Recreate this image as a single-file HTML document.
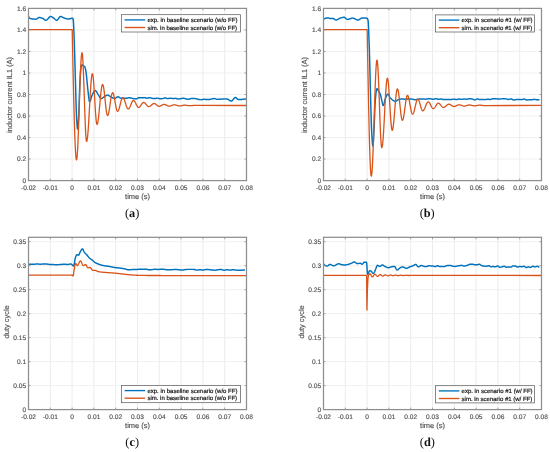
<!DOCTYPE html>
<html lang="en">
<head>
<meta charset="utf-8">
<title>Inductor current and duty cycle: experiment vs. simulation</title>
<style>
html,body{margin:0;padding:0;background:#fff;}
body{width:550px;height:452px;overflow:hidden;}
svg{display:block;}
text{text-rendering:geometricPrecision;}
.tk{font-family:"Liberation Sans",Arial,Helvetica,sans-serif;font-size:6.6px;fill:#505050;stroke:#505050;stroke-width:0.15px;}
.lb{font-family:"Liberation Sans",Arial,Helvetica,sans-serif;font-size:7.45px;fill:#505050;stroke:#505050;stroke-width:0.15px;}
.lg{font-family:"Liberation Sans",Arial,Helvetica,sans-serif;font-size:6px;fill:#111;stroke:#111;stroke-width:0.18px;}
.cap{font-family:"Liberation Serif","Times New Roman",serif;font-size:12.3px;fill:#111;}
</style>
</head>
<body>
<svg width="550" height="452" viewBox="0 0 550 452">
<rect width="550" height="452" fill="#fff"/>
<path d="M50.30 8.40 V180.60 M72.10 8.40 V180.60 M93.90 8.40 V180.60 M115.70 8.40 V180.60 M137.50 8.40 V180.60 M159.30 8.40 V180.60 M181.10 8.40 V180.60 M202.90 8.40 V180.60 M224.70 8.40 V180.60" stroke="#eaeaea" stroke-width="0.9" fill="none"/>
<path d="M28.50 159.07 H246.50 M28.50 137.55 H246.50 M28.50 116.03 H246.50 M28.50 94.50 H246.50 M28.50 72.98 H246.50 M28.50 51.45 H246.50 M28.50 29.93 H246.50" stroke="#eeeeee" stroke-width="0.9" fill="none"/>
<path d="M28.50 16.50 L28.75 16.86 L29.00 17.21 L29.25 17.54 L29.50 17.84 L29.75 18.11 L30.00 18.33 L30.25 18.49 L30.50 18.60 L30.75 18.67 L31.00 18.73 L31.25 18.78 L31.50 18.82 L31.75 18.86 L32.00 18.89 L32.25 18.92 L32.50 18.95 L32.75 18.98 L33.00 19.00 L33.25 19.02 L33.50 19.05 L33.75 19.07 L34.00 19.09 L34.25 19.12 L34.50 19.14 L34.75 19.15 L35.00 19.17 L35.25 19.18 L35.50 19.19 L35.75 19.20 L36.00 19.20 L36.25 19.17 L36.50 19.09 L36.75 18.98 L37.00 18.83 L37.25 18.65 L37.50 18.47 L37.75 18.27 L38.00 18.08 L38.25 17.91 L38.50 17.75 L38.75 17.63 L39.00 17.54 L39.25 17.50 L39.50 17.50 L39.75 17.52 L40.00 17.56 L40.25 17.60 L40.50 17.65 L40.75 17.72 L41.00 17.79 L41.25 17.87 L41.50 17.95 L41.75 18.03 L42.00 18.12 L42.25 18.21 L42.50 18.30 L42.75 18.41 L43.00 18.55 L43.25 18.72 L43.50 18.91 L43.75 19.11 L44.00 19.32 L44.25 19.53 L44.50 19.72 L44.75 19.90 L45.00 20.06 L45.25 20.18 L45.50 20.26 L45.75 20.30 L46.00 20.28 L46.25 20.21 L46.50 20.09 L46.75 19.93 L47.00 19.73 L47.25 19.50 L47.50 19.25 L47.75 18.97 L48.00 18.69 L48.25 18.40 L48.50 18.11 L48.75 17.83 L49.00 17.55 L49.25 17.30 L49.50 17.07 L49.75 16.87 L50.00 16.71 L50.25 16.59 L50.50 16.52 L50.75 16.50 L51.00 16.53 L51.25 16.60 L51.50 16.70 L51.75 16.82 L52.00 16.97 L52.25 17.13 L52.50 17.30 L52.75 17.47 L53.00 17.64 L53.25 17.81 L53.50 17.96 L53.75 18.14 L54.00 18.35 L54.25 18.58 L54.50 18.82 L54.75 19.06 L55.00 19.30 L55.25 19.53 L55.50 19.75 L55.75 19.94 L56.00 20.09 L56.25 20.21 L56.50 20.28 L56.75 20.30 L57.00 20.23 L57.25 20.08 L57.50 19.87 L57.75 19.59 L58.00 19.27 L58.25 18.92 L58.50 18.55 L58.75 18.18 L59.00 17.81 L59.25 17.46 L59.50 17.15 L59.75 16.89 L60.00 16.68 L60.25 16.55 L60.50 16.50 L60.75 16.51 L61.00 16.56 L61.25 16.62 L61.50 16.71 L61.75 16.81 L62.00 16.93 L62.25 17.06 L62.50 17.19 L62.75 17.33 L63.00 17.47 L63.25 17.61 L63.50 17.74 L63.75 17.86 L64.00 17.96 L64.25 18.05 L64.50 18.13 L64.75 18.20 L65.00 18.27 L65.25 18.34 L65.50 18.42 L65.75 18.49 L66.00 18.56 L66.25 18.62 L66.50 18.69 L66.75 18.75 L67.00 18.80 L67.25 18.85 L67.50 18.90 L67.75 18.93 L68.00 18.96 L68.25 18.98 L68.50 19.00 L68.75 19.00 L69.00 18.98 L69.25 18.95 L69.50 18.90 L69.75 18.84 L70.00 18.76 L70.25 18.68 L70.50 18.60 L70.75 18.52 L71.00 18.44 L71.25 18.36 L71.50 18.30 L71.75 18.25 L72.00 18.22 L72.25 18.20 L72.50 18.28 L72.75 18.58 L73.00 19.08 L73.25 19.82 L73.50 22.84 L73.75 28.22 L74.00 34.75 L74.25 41.29 L74.50 48.66 L74.75 57.13 L75.00 66.09 L75.25 74.96 L75.50 83.35 L75.75 92.34 L76.00 101.43 L76.25 109.67 L76.50 116.13 L76.75 120.45 L77.00 124.29 L77.25 127.34 L77.50 129.03 L77.75 128.82 L78.00 126.77 L78.25 123.48 L78.50 119.59 L78.75 115.11 L79.00 108.43 L79.25 100.53 L79.50 92.66 L79.75 86.06 L80.00 80.98 L80.25 76.19 L80.50 72.15 L80.75 69.36 L81.00 67.74 L81.25 66.37 L81.50 65.37 L81.75 64.91 L82.00 64.92 L82.25 65.01 L82.50 65.15 L82.75 65.31 L83.00 65.47 L83.25 65.63 L83.50 65.77 L83.75 65.90 L84.00 66.06 L84.25 66.24 L84.50 66.47 L84.75 66.77 L85.00 67.34 L85.25 68.23 L85.50 69.34 L85.75 70.63 L86.00 72.00 L86.25 73.68 L86.50 75.84 L86.75 78.33 L87.00 81.00 L87.25 83.70 L87.50 86.28 L87.75 88.58 L88.00 90.73 L88.25 93.08 L88.50 95.47 L88.75 97.71 L89.00 99.64 L89.25 101.07 L89.50 101.83 L89.75 101.85 L90.00 101.54 L90.25 101.01 L90.50 100.30 L90.75 99.48 L91.00 98.60 L91.25 97.70 L91.50 96.85 L91.75 96.10 L92.00 95.50 L92.25 94.98 L92.50 94.44 L92.75 93.89 L93.00 93.34 L93.25 92.81 L93.50 92.31 L93.75 91.84 L94.00 91.43 L94.25 91.08 L94.50 90.80 L94.75 90.61 L95.00 90.51 L95.25 90.52 L95.50 90.62 L95.75 90.81 L96.00 91.07 L96.25 91.38 L96.50 91.74 L96.75 92.14 L97.00 92.56 L97.25 92.99 L97.50 93.41 L97.75 93.83 L98.00 94.22 L98.25 94.57 L98.50 94.95 L98.75 95.37 L99.00 95.83 L99.25 96.30 L99.50 96.77 L99.75 97.22 L100.00 97.63 L100.25 97.99 L100.50 98.28 L100.75 98.49 L101.00 98.59 L101.25 98.59 L101.50 98.55 L101.75 98.46 L102.00 98.35 L102.25 98.20 L102.50 98.04 L102.75 97.86 L103.00 97.67 L103.25 97.48 L103.50 97.28 L103.75 97.09 L104.00 96.91 L104.25 96.74 L104.50 96.60 L104.75 96.46 L105.00 96.31 L105.25 96.15 L105.50 95.99 L105.75 95.83 L106.00 95.67 L106.25 95.53 L106.50 95.40 L106.75 95.29 L107.00 95.20 L107.25 95.13 L107.50 95.10 L107.75 95.11 L108.00 95.15 L108.25 95.24 L108.50 95.35 L108.75 95.49 L109.00 95.65 L109.25 95.82 L109.50 96.00 L109.75 96.19 L110.00 96.38 L110.25 96.56 L110.50 96.72 L110.75 96.87 L111.00 97.00 L111.25 97.12 L111.50 97.24 L111.75 97.36 L112.00 97.49 L112.25 97.62 L112.50 97.74 L112.75 97.86 L113.00 97.98 L113.25 98.08 L113.50 98.17 L113.75 98.25 L114.00 98.32 L114.25 98.36 L114.50 98.39 L114.75 98.40 L115.00 98.36 L115.25 98.28 L115.50 98.16 L115.75 98.02 L116.00 97.85 L116.25 97.67 L116.50 97.49 L116.75 97.31 L117.00 97.15 L117.25 97.01 L117.50 96.90 L117.75 96.83 L118.00 96.80 L118.25 96.83 L118.50 96.90 L118.75 97.02 L119.00 97.16 L119.25 97.33 L119.50 97.50 L119.75 97.67 L120.00 97.84 L120.25 97.98 L120.50 98.10 L120.75 98.17 L121.00 98.20 L121.25 98.20 L121.50 98.19 L121.75 98.17 L122.00 98.15 L122.25 98.14 L122.50 98.12 L122.75 98.10 L123.00 98.08 L123.25 98.07 L123.50 98.07 L123.75 98.08 L124.00 98.10 L124.25 98.12 L124.50 98.15 L124.75 98.19 L125.00 98.23 L125.25 98.26 L125.50 98.29 L125.75 98.31 L126.00 98.32 L126.25 98.32 L126.50 98.29 L126.75 98.24 L127.00 98.17 L127.25 98.10 L127.50 98.02 L127.75 97.94 L128.00 97.87 L128.25 97.82 L128.50 97.78 L128.75 97.77 L129.00 97.78 L129.25 97.80 L129.50 97.82 L129.75 97.85 L130.00 97.89 L130.25 97.93 L130.50 97.97 L130.75 98.02 L131.00 98.06 L131.25 98.10 L131.50 98.15 L131.75 98.21 L132.00 98.27 L132.25 98.34 L132.50 98.41 L132.75 98.48 L133.00 98.55 L133.25 98.60 L133.50 98.64 L133.75 98.67 L134.00 98.68 L134.25 98.69 L134.50 98.69 L134.75 98.70 L135.00 98.70 L135.25 98.71 L135.50 98.71 L135.75 98.71 L136.00 98.72 L136.25 98.72 L136.50 98.72 L136.75 98.69 L137.00 98.62 L137.25 98.51 L137.50 98.37 L137.75 98.22 L138.00 98.07 L138.25 97.93 L138.50 97.81 L138.75 97.72 L139.00 97.68 L139.25 97.67 L139.50 97.68 L139.75 97.69 L140.00 97.71 L140.25 97.73 L140.50 97.75 L140.75 97.77 L141.00 97.79 L141.25 97.81 L141.50 97.82 L141.75 97.82 L142.00 97.81 L142.25 97.80 L142.50 97.78 L142.75 97.75 L143.00 97.72 L143.25 97.70 L143.50 97.67 L143.75 97.65 L144.00 97.64 L144.25 97.63 L144.50 97.64 L144.75 97.68 L145.00 97.74 L145.25 97.81 L145.50 97.89 L145.75 97.97 L146.00 98.05 L146.25 98.12 L146.50 98.17 L146.75 98.20 L147.00 98.21 L147.25 98.18 L147.50 98.14 L147.75 98.07 L148.00 98.00 L148.25 97.92 L148.50 97.85 L148.75 97.78 L149.00 97.72 L149.25 97.68 L149.50 97.67 L149.75 97.68 L150.00 97.72 L150.25 97.77 L150.50 97.84 L150.75 97.91 L151.00 98.00 L151.25 98.08 L151.50 98.16 L151.75 98.22 L152.00 98.28 L152.25 98.32 L152.50 98.36 L152.75 98.40 L153.00 98.44 L153.25 98.48 L153.50 98.51 L153.75 98.54 L154.00 98.57 L154.25 98.58 L154.50 98.60 L154.75 98.60 L155.00 98.58 L155.25 98.54 L155.50 98.49 L155.75 98.42 L156.00 98.36 L156.25 98.29 L156.50 98.22 L156.75 98.17 L157.00 98.13 L157.25 98.11 L157.50 98.12 L157.75 98.16 L158.00 98.22 L158.25 98.29 L158.50 98.37 L158.75 98.46 L159.00 98.54 L159.25 98.61 L159.50 98.66 L159.75 98.70 L160.00 98.70 L160.25 98.70 L160.50 98.70 L160.75 98.69 L161.00 98.68 L161.25 98.68 L161.50 98.67 L161.75 98.66 L162.00 98.64 L162.25 98.63 L162.50 98.61 L162.75 98.58 L163.00 98.52 L163.25 98.44 L163.50 98.34 L163.75 98.24 L164.00 98.13 L164.25 98.03 L164.50 97.95 L164.75 97.89 L165.00 97.86 L165.25 97.86 L165.50 97.90 L165.75 97.98 L166.00 98.07 L166.25 98.18 L166.50 98.29 L166.75 98.40 L167.00 98.50 L167.25 98.57 L167.50 98.62 L167.75 98.63 L168.00 98.62 L168.25 98.59 L168.50 98.55 L168.75 98.50 L169.00 98.44 L169.25 98.39 L169.50 98.34 L169.75 98.29 L170.00 98.26 L170.25 98.25 L170.50 98.25 L170.75 98.27 L171.00 98.29 L171.25 98.32 L171.50 98.36 L171.75 98.39 L172.00 98.43 L172.25 98.46 L172.50 98.48 L172.75 98.50 L173.00 98.50 L173.25 98.49 L173.50 98.48 L173.75 98.46 L174.00 98.44 L174.25 98.42 L174.50 98.40 L174.75 98.38 L175.00 98.36 L175.25 98.35 L175.50 98.35 L175.75 98.36 L176.00 98.41 L176.25 98.47 L176.50 98.55 L176.75 98.63 L177.00 98.72 L177.25 98.80 L177.50 98.87 L177.75 98.92 L178.00 98.95 L178.25 98.95 L178.50 98.94 L178.75 98.92 L179.00 98.89 L179.25 98.86 L179.50 98.82 L179.75 98.78 L180.00 98.74 L180.25 98.70 L180.50 98.66 L180.75 98.62 L181.00 98.59 L181.25 98.54 L181.50 98.50 L181.75 98.45 L182.00 98.41 L182.25 98.36 L182.50 98.33 L182.75 98.30 L183.00 98.28 L183.25 98.27 L183.50 98.27 L183.75 98.30 L184.00 98.35 L184.25 98.40 L184.50 98.47 L184.75 98.54 L185.00 98.62 L185.25 98.69 L185.50 98.76 L185.75 98.81 L186.00 98.86 L186.25 98.91 L186.50 98.95 L186.75 99.00 L187.00 99.04 L187.25 99.09 L187.50 99.13 L187.75 99.16 L188.00 99.18 L188.25 99.20 L188.50 99.20 L188.75 99.19 L189.00 99.15 L189.25 99.09 L189.50 99.01 L189.75 98.93 L190.00 98.84 L190.25 98.75 L190.50 98.68 L190.75 98.62 L191.00 98.58 L191.25 98.57 L191.50 98.55 L191.75 98.54 L192.00 98.53 L192.25 98.52 L192.50 98.51 L192.75 98.50 L193.00 98.50 L193.25 98.49 L193.50 98.49 L193.75 98.49 L194.00 98.49 L194.25 98.50 L194.50 98.52 L194.75 98.54 L195.00 98.57 L195.25 98.60 L195.50 98.63 L195.75 98.67 L196.00 98.71 L196.25 98.75 L196.50 98.79 L196.75 98.86 L197.00 98.94 L197.25 99.04 L197.50 99.14 L197.75 99.24 L198.00 99.34 L198.25 99.42 L198.50 99.49 L198.75 99.54 L199.00 99.56 L199.25 99.57 L199.50 99.59 L199.75 99.60 L200.00 99.61 L200.25 99.62 L200.50 99.63 L200.75 99.63 L201.00 99.64 L201.25 99.64 L201.50 99.64 L201.75 99.63 L202.00 99.60 L202.25 99.56 L202.50 99.51 L202.75 99.46 L203.00 99.40 L203.25 99.35 L203.50 99.30 L203.75 99.27 L204.00 99.25 L204.25 99.25 L204.50 99.27 L204.75 99.30 L205.00 99.35 L205.25 99.40 L205.50 99.45 L205.75 99.50 L206.00 99.54 L206.25 99.58 L206.50 99.60 L206.75 99.60 L207.00 99.60 L207.25 99.60 L207.50 99.60 L207.75 99.60 L208.00 99.59 L208.25 99.59 L208.50 99.58 L208.75 99.57 L209.00 99.57 L209.25 99.56 L209.50 99.54 L209.75 99.51 L210.00 99.46 L210.25 99.39 L210.50 99.32 L210.75 99.25 L211.00 99.17 L211.25 99.09 L211.50 99.02 L211.75 98.96 L212.00 98.92 L212.25 98.87 L212.50 98.82 L212.75 98.77 L213.00 98.73 L213.25 98.68 L213.50 98.65 L213.75 98.61 L214.00 98.59 L214.25 98.57 L214.50 98.57 L214.75 98.59 L215.00 98.65 L215.25 98.73 L215.50 98.84 L215.75 98.95 L216.00 99.07 L216.25 99.18 L216.50 99.27 L216.75 99.34 L217.00 99.38 L217.25 99.38 L217.50 99.38 L217.75 99.38 L218.00 99.37 L218.25 99.36 L218.50 99.35 L218.75 99.34 L219.00 99.32 L219.25 99.31 L219.50 99.29 L219.75 99.28 L220.00 99.26 L220.25 99.24 L220.50 99.22 L220.75 99.19 L221.00 99.17 L221.25 99.14 L221.50 99.11 L221.75 99.09 L222.00 99.07 L222.25 99.04 L222.50 99.03 L222.75 99.01 L223.00 98.99 L223.25 98.96 L223.50 98.95 L223.75 98.93 L224.00 98.91 L224.25 98.90 L224.50 98.89 L224.75 98.88 L225.00 98.88 L225.25 98.89 L225.50 98.90 L225.75 98.92 L226.00 98.95 L226.25 98.98 L226.50 99.01 L226.75 99.05 L227.00 99.08 L227.25 99.13 L227.50 99.17 L227.75 99.23 L228.00 99.33 L228.25 99.45 L228.50 99.59 L228.75 99.76 L229.00 99.93 L229.25 100.11 L229.50 100.29 L229.75 100.46 L230.00 100.63 L230.25 100.78 L230.50 100.90 L230.75 101.00 L231.00 101.07 L231.25 101.10 L231.50 101.07 L231.75 100.97 L232.00 100.81 L232.25 100.59 L232.50 100.32 L232.75 100.02 L233.00 99.70 L233.25 99.37 L233.50 99.03 L233.75 98.70 L234.00 98.39 L234.25 98.11 L234.50 97.87 L234.75 97.69 L235.00 97.56 L235.25 97.50 L235.50 97.52 L235.75 97.61 L236.00 97.76 L236.25 97.95 L236.50 98.16 L236.75 98.40 L237.00 98.65 L237.25 98.89 L237.50 99.11 L237.75 99.31 L238.00 99.46 L238.25 99.56 L238.50 99.60 L238.75 99.60 L239.00 99.59 L239.25 99.59 L239.50 99.58 L239.75 99.56 L240.00 99.55 L240.25 99.53 L240.50 99.52 L240.75 99.50 L241.00 99.48 L241.25 99.46 L241.50 99.44 L241.75 99.42 L242.00 99.40 L242.25 99.38 L242.50 99.36 L242.75 99.33 L243.00 99.31 L243.25 99.28 L243.50 99.25 L243.75 99.22 L244.00 99.19 L244.25 99.15 L244.50 99.12 L244.75 99.08 L245.00 99.05 L245.25 99.01 L245.50 98.97 L245.75 98.93 L246.00 98.89 L246.25 98.84 L246.50 98.80" stroke="#0072BD" stroke-width="1.47" fill="none" stroke-linejoin="round" stroke-linecap="butt"/>
<path d="M28.50 29.60 L72.20 29.60 L72.40 39.34 L72.61 49.02 L72.81 58.59 L73.02 68.01 L73.22 77.20 L73.43 86.14 L73.63 94.75 L73.84 103.00 L74.04 110.84 L74.25 118.23 L74.45 125.12 L74.66 131.47 L74.86 137.26 L75.07 142.44 L75.27 147.00 L75.48 150.89 L75.68 154.11 L75.89 156.63 L76.09 158.44 L76.30 159.54 L76.50 159.90 L76.70 159.54 L76.91 158.46 L77.11 156.67 L77.31 154.20 L77.52 151.09 L77.72 147.37 L77.93 143.10 L78.13 138.33 L78.33 133.12 L78.54 127.56 L78.74 121.71 L78.94 115.65 L79.15 109.46 L79.35 103.24 L79.56 97.05 L79.76 90.99 L79.96 85.14 L80.17 79.58 L80.37 74.37 L80.57 69.60 L80.78 65.33 L80.98 61.61 L81.19 58.50 L81.39 56.03 L81.59 54.24 L81.80 53.16 L82.00 52.80 L82.21 53.25 L82.42 54.59 L82.63 56.80 L82.84 59.83 L83.05 63.62 L83.25 68.09 L83.46 73.15 L83.67 78.70 L83.88 84.62 L84.09 90.80 L84.30 97.10 L84.51 103.40 L84.72 109.58 L84.93 115.50 L85.14 121.05 L85.35 126.11 L85.55 130.58 L85.76 134.37 L85.97 137.40 L86.18 139.61 L86.39 140.95 L86.60 141.40 L86.80 141.20 L87.00 140.61 L87.20 139.63 L87.40 138.27 L87.60 136.55 L87.80 134.50 L88.00 132.12 L88.20 129.46 L88.40 126.55 L88.60 123.41 L88.80 120.08 L89.00 116.61 L89.20 113.03 L89.40 109.38 L89.60 105.72 L89.80 102.07 L90.00 98.49 L90.20 95.02 L90.40 91.69 L90.60 88.55 L90.80 85.64 L91.00 82.98 L91.20 80.60 L91.40 78.55 L91.60 76.83 L91.80 75.47 L92.00 74.49 L92.20 73.90 L92.40 73.70 L92.61 73.96 L92.82 74.73 L93.03 75.99 L93.24 77.72 L93.45 79.89 L93.65 82.45 L93.86 85.34 L94.07 88.52 L94.28 91.91 L94.49 95.44 L94.70 99.05 L94.91 102.66 L95.12 106.19 L95.33 109.58 L95.54 112.76 L95.75 115.65 L95.95 118.21 L96.16 120.38 L96.37 122.11 L96.58 123.37 L96.79 124.14 L97.00 124.40 L97.21 124.27 L97.41 123.86 L97.62 123.20 L97.83 122.28 L98.04 121.12 L98.24 119.73 L98.45 118.14 L98.66 116.36 L98.87 114.43 L99.07 112.35 L99.28 110.17 L99.49 107.91 L99.70 105.61 L99.90 103.29 L100.11 100.99 L100.32 98.73 L100.53 96.55 L100.73 94.48 L100.94 92.54 L101.15 90.76 L101.36 89.17 L101.56 87.78 L101.77 86.62 L101.98 85.70 L102.19 85.04 L102.39 84.63 L102.60 84.50 L102.80 84.62 L103.00 84.99 L103.20 85.59 L103.40 86.42 L103.60 87.46 L103.80 88.70 L104.00 90.12 L104.20 91.69 L104.40 93.40 L104.60 95.21 L104.80 97.10 L105.00 99.03 L105.20 100.97 L105.40 102.90 L105.60 104.79 L105.80 106.60 L106.00 108.31 L106.20 109.88 L106.40 111.30 L106.60 112.54 L106.80 113.58 L107.00 114.41 L107.20 115.01 L107.40 115.38 L107.60 115.50 L107.80 115.41 L108.00 115.14 L108.20 114.70 L108.40 114.09 L108.60 113.32 L108.80 112.41 L109.00 111.37 L109.20 110.21 L109.40 108.95 L109.60 107.62 L109.80 106.24 L110.00 104.82 L110.20 103.38 L110.40 101.96 L110.60 100.58 L110.80 99.25 L111.00 97.99 L111.20 96.83 L111.40 95.79 L111.60 94.88 L111.80 94.11 L112.00 93.50 L112.20 93.06 L112.40 92.79 L112.60 92.70 L112.80 92.77 L113.00 92.99 L113.20 93.35 L113.40 93.85 L113.60 94.48 L113.80 95.22 L114.00 96.07 L114.20 97.02 L114.40 98.04 L114.60 99.13 L114.80 100.26 L115.00 101.42 L115.20 102.58 L115.40 103.74 L115.60 104.87 L115.80 105.96 L116.00 106.98 L116.20 107.93 L116.40 108.78 L116.60 109.52 L116.80 110.15 L117.00 110.65 L117.20 111.01 L117.40 111.23 L117.60 111.30 L117.80 111.25 L118.00 111.10 L118.20 110.86 L118.40 110.52 L118.60 110.10 L118.80 109.59 L119.00 109.01 L119.20 108.36 L119.40 107.66 L119.60 106.91 L119.80 106.13 L120.00 105.32 L120.20 104.50 L120.40 103.68 L120.60 102.87 L120.80 102.09 L121.00 101.34 L121.20 100.64 L121.40 99.99 L121.60 99.41 L121.80 98.90 L122.00 98.48 L122.20 98.14 L122.40 97.90 L122.60 97.75 L122.80 97.70 L123.01 97.74 L123.22 97.86 L123.42 98.06 L123.63 98.34 L123.84 98.69 L124.05 99.11 L124.25 99.59 L124.46 100.12 L124.67 100.70 L124.88 101.31 L125.08 101.96 L125.29 102.62 L125.50 103.30 L125.71 103.98 L125.92 104.64 L126.12 105.29 L126.33 105.90 L126.54 106.48 L126.75 107.01 L126.95 107.49 L127.16 107.91 L127.37 108.26 L127.58 108.54 L127.78 108.74 L127.99 108.86 L128.20 108.90 L128.40 108.87 L128.61 108.78 L128.81 108.63 L129.02 108.42 L129.22 108.16 L129.42 107.84 L129.63 107.49 L129.83 107.09 L130.03 106.65 L130.24 106.19 L130.44 105.71 L130.65 105.21 L130.85 104.70 L131.05 104.19 L131.26 103.69 L131.46 103.21 L131.67 102.75 L131.87 102.31 L132.07 101.91 L132.28 101.56 L132.48 101.24 L132.68 100.98 L132.89 100.77 L133.09 100.62 L133.30 100.53 L133.50 100.50 L133.70 100.53 L133.91 100.61 L134.11 100.74 L134.32 100.93 L134.52 101.16 L134.72 101.44 L134.93 101.75 L135.13 102.10 L135.34 102.48 L135.54 102.88 L135.74 103.30 L135.95 103.73 L136.15 104.17 L136.36 104.60 L136.56 105.02 L136.76 105.42 L136.97 105.80 L137.17 106.15 L137.38 106.46 L137.58 106.74 L137.78 106.97 L137.99 107.16 L138.19 107.29 L138.40 107.37 L138.60 107.40 L138.80 107.38 L139.00 107.32 L139.20 107.23 L139.40 107.10 L139.60 106.93 L139.80 106.74 L140.00 106.51 L140.20 106.26 L140.40 105.99 L140.60 105.71 L140.80 105.41 L141.00 105.10 L141.20 104.80 L141.40 104.49 L141.60 104.19 L141.80 103.91 L142.00 103.64 L142.20 103.39 L142.40 103.16 L142.60 102.97 L142.80 102.80 L143.00 102.67 L143.20 102.58 L143.40 102.52 L143.60 102.50 L143.80 102.51 L144.01 102.56 L144.21 102.63 L144.42 102.73 L144.62 102.86 L144.82 103.02 L145.03 103.19 L145.23 103.39 L145.43 103.60 L145.64 103.82 L145.84 104.06 L146.05 104.30 L146.25 104.55 L146.45 104.80 L146.66 105.04 L146.86 105.28 L147.07 105.50 L147.27 105.71 L147.47 105.91 L147.68 106.08 L147.88 106.24 L148.08 106.37 L148.29 106.47 L148.49 106.54 L148.70 106.59 L148.90 106.60 L149.11 106.59 L149.32 106.55 L149.52 106.49 L149.73 106.41 L149.94 106.30 L150.15 106.18 L150.36 106.04 L150.56 105.88 L150.77 105.71 L150.98 105.53 L151.19 105.34 L151.40 105.15 L151.60 104.95 L151.81 104.76 L152.02 104.57 L152.23 104.39 L152.44 104.22 L152.64 104.06 L152.85 103.92 L153.06 103.80 L153.27 103.69 L153.48 103.61 L153.68 103.55 L153.89 103.51 L154.10 103.50 L154.30 103.51 L154.51 103.55 L154.71 103.61 L154.92 103.69 L155.12 103.79 L155.32 103.91 L155.53 104.05 L155.73 104.20 L155.94 104.36 L156.14 104.54 L156.35 104.72 L156.55 104.90 L156.75 105.08 L156.96 105.26 L157.16 105.44 L157.37 105.60 L157.57 105.75 L157.78 105.89 L157.98 106.01 L158.18 106.11 L158.39 106.19 L158.59 106.25 L158.80 106.29 L159.00 106.30 L159.20 106.29 L159.41 106.27 L159.61 106.23 L159.82 106.18 L160.02 106.12 L160.22 106.04 L160.43 105.96 L160.63 105.86 L160.84 105.75 L161.04 105.64 L161.24 105.53 L161.45 105.41 L161.65 105.29 L161.86 105.17 L162.06 105.06 L162.26 104.95 L162.47 104.84 L162.67 104.74 L162.88 104.66 L163.08 104.58 L163.28 104.52 L163.49 104.47 L163.69 104.43 L163.90 104.41 L164.10 104.40 L164.30 104.41 L164.51 104.43 L164.71 104.46 L164.92 104.51 L165.12 104.56 L165.32 104.63 L165.53 104.71 L165.73 104.79 L165.94 104.89 L166.14 104.99 L166.34 105.09 L166.55 105.20 L166.75 105.30 L166.96 105.41 L167.16 105.51 L167.36 105.61 L167.57 105.71 L167.77 105.79 L167.98 105.87 L168.18 105.94 L168.38 105.99 L168.59 106.04 L168.79 106.07 L169.00 106.09 L169.20 106.10 L169.40 106.09 L169.61 106.08 L169.81 106.05 L170.02 106.02 L170.22 105.98 L170.42 105.92 L170.63 105.86 L170.83 105.80 L171.04 105.73 L171.24 105.65 L171.44 105.57 L171.65 105.49 L171.85 105.41 L172.06 105.33 L172.26 105.25 L172.46 105.17 L172.67 105.10 L172.87 105.04 L173.08 104.98 L173.28 104.92 L173.48 104.88 L173.69 104.85 L173.89 104.82 L174.10 104.81 L174.30 104.80 L174.51 104.80 L174.72 104.82 L174.92 104.84 L175.13 104.87 L175.34 104.91 L175.55 104.95 L175.76 105.00 L175.96 105.06 L176.17 105.12 L176.38 105.18 L176.59 105.25 L176.80 105.32 L177.00 105.38 L177.21 105.45 L177.42 105.52 L177.63 105.58 L177.84 105.64 L178.04 105.70 L178.25 105.75 L178.46 105.79 L178.67 105.83 L178.88 105.86 L179.08 105.88 L179.29 105.90 L179.50 105.90 L179.70 105.90 L179.91 105.89 L180.11 105.88 L180.32 105.86 L180.52 105.83 L180.72 105.81 L180.93 105.77 L181.13 105.74 L181.34 105.70 L181.54 105.66 L181.74 105.62 L181.95 105.57 L182.15 105.53 L182.36 105.48 L182.56 105.44 L182.76 105.40 L182.97 105.36 L183.17 105.33 L183.38 105.29 L183.58 105.27 L183.78 105.24 L183.99 105.22 L184.19 105.21 L184.40 105.20 L184.60 105.20 L184.80 105.20 L185.00 105.21 L185.20 105.22 L185.40 105.23 L185.60 105.24 L185.80 105.26 L186.00 105.28 L186.20 105.31 L186.40 105.33 L186.60 105.36 L186.80 105.39 L187.00 105.42 L187.20 105.45 L187.40 105.48 L187.60 105.51 L187.80 105.54 L188.00 105.57 L188.20 105.59 L188.40 105.62 L188.60 105.64 L188.80 105.66 L189.00 105.67 L189.20 105.68 L189.40 105.69 L189.60 105.70 L189.80 105.70 L190.01 105.70 L190.22 105.70 L190.42 105.69 L190.63 105.68 L190.84 105.67 L191.05 105.66 L191.26 105.65 L191.46 105.63 L191.67 105.61 L191.88 105.60 L192.09 105.58 L192.30 105.56 L192.50 105.54 L192.71 105.52 L192.92 105.50 L193.13 105.49 L193.34 105.47 L193.54 105.45 L193.75 105.44 L193.96 105.43 L194.17 105.42 L194.38 105.41 L194.58 105.40 L194.79 105.40 L195.00 105.40 L246.50 105.50" stroke="#D95319" stroke-width="1.30" fill="none" stroke-linejoin="round" stroke-linecap="butt"/>
<path d="M50.30 180.60 v-2.00 M50.30 8.40 v2.00 M72.10 180.60 v-2.00 M72.10 8.40 v2.00 M93.90 180.60 v-2.00 M93.90 8.40 v2.00 M115.70 180.60 v-2.00 M115.70 8.40 v2.00 M137.50 180.60 v-2.00 M137.50 8.40 v2.00 M159.30 180.60 v-2.00 M159.30 8.40 v2.00 M181.10 180.60 v-2.00 M181.10 8.40 v2.00 M202.90 180.60 v-2.00 M202.90 8.40 v2.00 M224.70 180.60 v-2.00 M224.70 8.40 v2.00 M28.50 159.07 h2.00 M246.50 159.07 h-2.00 M28.50 137.55 h2.00 M246.50 137.55 h-2.00 M28.50 116.03 h2.00 M246.50 116.03 h-2.00 M28.50 94.50 h2.00 M246.50 94.50 h-2.00 M28.50 72.98 h2.00 M246.50 72.98 h-2.00 M28.50 51.45 h2.00 M246.50 51.45 h-2.00 M28.50 29.93 h2.00 M246.50 29.93 h-2.00" stroke="#8e8e8e" stroke-width="0.8" fill="none"/>
<rect x="28.50" y="8.40" width="218.00" height="172.20" fill="none" stroke="#8e8e8e" stroke-width="1.25"/>
<text x="28.50" y="189.80" text-anchor="middle" class="tk">-0.02</text>
<text x="50.30" y="189.80" text-anchor="middle" class="tk">-0.01</text>
<text x="72.10" y="189.80" text-anchor="middle" class="tk">0</text>
<text x="93.90" y="189.80" text-anchor="middle" class="tk">0.01</text>
<text x="115.70" y="189.80" text-anchor="middle" class="tk">0.02</text>
<text x="137.50" y="189.80" text-anchor="middle" class="tk">0.03</text>
<text x="159.30" y="189.80" text-anchor="middle" class="tk">0.04</text>
<text x="181.10" y="189.80" text-anchor="middle" class="tk">0.05</text>
<text x="202.90" y="189.80" text-anchor="middle" class="tk">0.06</text>
<text x="224.70" y="189.80" text-anchor="middle" class="tk">0.07</text>
<text x="246.50" y="189.80" text-anchor="middle" class="tk">0.08</text>
<text x="26.10" y="182.75" text-anchor="end" class="tk">0</text>
<text x="26.10" y="161.22" text-anchor="end" class="tk">0.2</text>
<text x="26.10" y="139.70" text-anchor="end" class="tk">0.4</text>
<text x="26.10" y="118.18" text-anchor="end" class="tk">0.6</text>
<text x="26.10" y="96.65" text-anchor="end" class="tk">0.8</text>
<text x="26.10" y="75.13" text-anchor="end" class="tk">1</text>
<text x="26.10" y="53.60" text-anchor="end" class="tk">1.2</text>
<text x="26.10" y="32.08" text-anchor="end" class="tk">1.4</text>
<text x="26.10" y="10.55" text-anchor="end" class="tk">1.6</text>
<text x="137.50" y="199.20" text-anchor="middle" class="lb">time (s)</text>
<text transform="translate(12.40 95.00) rotate(-90)" text-anchor="middle" class="lb">inductor current IL1 (A)</text>
<rect x="121.40" y="14.70" width="119.20" height="17.30" fill="#fff" stroke="#555" stroke-width="0.7"/>
<path d="M124.60 19.90 h20.6" stroke="#0072BD" stroke-width="1.35"/>
<text x="147.40" y="22.00" class="lg">exp. in baseline scenario (w/o FF)</text>
<path d="M124.60 27.50 h20.6" stroke="#D95319" stroke-width="1.35"/>
<text x="147.40" y="29.60" class="lg">sim. in baseline scenario (w/o FF)</text>
<text x="132.10" y="217.10" text-anchor="middle" class="cap">(<tspan font-weight="bold">a</tspan>)</text>
<path d="M345.30 8.40 V180.60 M367.10 8.40 V180.60 M388.90 8.40 V180.60 M410.70 8.40 V180.60 M432.50 8.40 V180.60 M454.30 8.40 V180.60 M476.10 8.40 V180.60 M497.90 8.40 V180.60 M519.70 8.40 V180.60" stroke="#eaeaea" stroke-width="0.9" fill="none"/>
<path d="M323.50 159.07 H541.50 M323.50 137.55 H541.50 M323.50 116.03 H541.50 M323.50 94.50 H541.50 M323.50 72.98 H541.50 M323.50 51.45 H541.50 M323.50 29.93 H541.50" stroke="#eeeeee" stroke-width="0.9" fill="none"/>
<path d="M323.50 19.20 L323.75 19.05 L324.00 18.92 L324.25 18.79 L324.50 18.66 L324.75 18.55 L325.00 18.45 L325.25 18.35 L325.50 18.27 L325.75 18.19 L326.00 18.12 L326.25 18.06 L326.50 18.01 L326.75 17.97 L327.00 17.94 L327.25 17.92 L327.50 17.90 L327.75 17.90 L328.00 17.92 L328.25 17.95 L328.50 18.00 L328.75 18.07 L329.00 18.14 L329.25 18.22 L329.50 18.30 L329.75 18.37 L330.00 18.45 L330.25 18.51 L330.50 18.56 L330.75 18.59 L331.00 18.60 L331.25 18.59 L331.50 18.57 L331.75 18.55 L332.00 18.51 L332.25 18.48 L332.50 18.45 L332.75 18.42 L333.00 18.40 L333.25 18.40 L333.50 18.45 L333.75 18.57 L334.00 18.74 L334.25 18.94 L334.50 19.16 L334.75 19.38 L335.00 19.59 L335.25 19.77 L335.50 19.91 L335.75 19.99 L336.00 20.00 L336.25 19.98 L336.50 19.93 L336.75 19.86 L337.00 19.78 L337.25 19.68 L337.50 19.56 L337.75 19.44 L338.00 19.30 L338.25 19.16 L338.50 19.01 L338.75 18.87 L339.00 18.72 L339.25 18.58 L339.50 18.44 L339.75 18.31 L340.00 18.19 L340.25 18.08 L340.50 17.99 L340.75 17.91 L341.00 17.85 L341.25 17.79 L341.50 17.72 L341.75 17.66 L342.00 17.60 L342.25 17.54 L342.50 17.49 L342.75 17.44 L343.00 17.39 L343.25 17.36 L343.50 17.33 L343.75 17.31 L344.00 17.30 L344.25 17.31 L344.50 17.39 L344.75 17.51 L345.00 17.68 L345.25 17.89 L345.50 18.11 L345.75 18.35 L346.00 18.59 L346.25 18.81 L346.50 19.02 L346.75 19.19 L347.00 19.31 L347.25 19.39 L347.50 19.40 L347.75 19.38 L348.00 19.36 L348.25 19.31 L348.50 19.26 L348.75 19.20 L349.00 19.13 L349.25 19.05 L349.50 18.96 L349.75 18.88 L350.00 18.79 L350.25 18.70 L350.50 18.61 L350.75 18.52 L351.00 18.44 L351.25 18.36 L351.50 18.29 L351.75 18.23 L352.00 18.18 L352.25 18.14 L352.50 18.11 L352.75 18.10 L353.00 18.11 L353.25 18.15 L353.50 18.21 L353.75 18.29 L354.00 18.39 L354.25 18.50 L354.50 18.63 L354.75 18.76 L355.00 18.91 L355.25 19.05 L355.50 19.19 L355.75 19.34 L356.00 19.47 L356.25 19.60 L356.50 19.71 L356.75 19.81 L357.00 19.89 L357.25 19.95 L357.50 19.99 L357.75 20.00 L358.00 19.98 L358.25 19.93 L358.50 19.85 L358.75 19.75 L359.00 19.63 L359.25 19.50 L359.50 19.36 L359.75 19.20 L360.00 19.05 L360.25 18.89 L360.50 18.73 L360.75 18.57 L361.00 18.43 L361.25 18.29 L361.50 18.17 L361.75 18.07 L362.00 17.99 L362.25 17.93 L362.50 17.90 L362.75 17.90 L363.00 17.90 L363.25 17.91 L363.50 17.91 L363.75 17.92 L364.00 17.93 L364.25 17.94 L364.50 17.96 L364.75 17.98 L365.00 18.00 L365.25 18.03 L365.50 18.05 L365.75 18.09 L366.00 18.12 L366.25 18.16 L366.50 18.20 L366.75 18.25 L367.00 18.30 L367.25 18.45 L367.50 18.79 L367.75 19.31 L368.00 20.00 L368.25 22.18 L368.50 26.67 L368.75 32.70 L369.00 39.51 L369.25 46.39 L369.50 54.57 L369.75 64.20 L370.00 74.44 L370.25 84.45 L370.50 93.61 L370.75 103.10 L371.00 112.56 L371.25 121.12 L371.50 127.95 L371.75 132.74 L372.00 137.16 L372.25 141.07 L372.50 144.10 L372.75 145.88 L373.00 145.97 L373.25 143.69 L373.50 139.68 L373.75 134.82 L374.00 130.00 L374.25 124.63 L374.50 118.15 L374.75 111.48 L375.00 105.56 L375.25 101.29 L375.50 97.95 L375.75 95.07 L376.00 92.79 L376.25 91.24 L376.50 90.01 L376.75 89.07 L377.00 88.70 L377.25 88.80 L377.50 89.05 L377.75 89.43 L378.00 89.88 L378.25 90.36 L378.50 90.83 L378.75 91.25 L379.00 91.67 L379.25 92.11 L379.50 92.58 L379.75 93.08 L380.00 93.64 L380.25 94.27 L380.50 95.01 L380.75 95.95 L381.00 97.01 L381.25 98.14 L381.50 99.26 L381.75 100.31 L382.00 101.35 L382.25 102.54 L382.50 103.72 L382.75 104.73 L383.00 105.41 L383.25 105.59 L383.50 105.33 L383.75 104.74 L384.00 103.92 L384.25 102.93 L384.50 101.86 L384.75 100.78 L385.00 99.77 L385.25 98.91 L385.50 98.25 L385.75 97.61 L386.00 96.94 L386.25 96.29 L386.50 95.68 L386.75 95.14 L387.00 94.70 L387.25 94.38 L387.50 94.22 L387.75 94.22 L388.00 94.35 L388.25 94.57 L388.50 94.87 L388.75 95.23 L389.00 95.64 L389.25 96.07 L389.50 96.51 L389.75 96.94 L390.00 97.34 L390.25 97.70 L390.50 98.00 L390.75 98.26 L391.00 98.52 L391.25 98.78 L391.50 99.03 L391.75 99.27 L392.00 99.51 L392.25 99.73 L392.50 99.94 L392.75 100.14 L393.00 100.31 L393.25 100.47 L393.50 100.60 L393.75 100.72 L394.00 100.85 L394.25 100.96 L394.50 101.07 L394.75 101.16 L395.00 101.24 L395.25 101.28 L395.50 101.30 L395.75 101.27 L396.00 101.19 L396.25 101.07 L396.50 100.92 L396.75 100.74 L397.00 100.55 L397.25 100.35 L397.50 100.16 L397.75 99.98 L398.00 99.82 L398.25 99.69 L398.50 99.60 L398.75 99.53 L399.00 99.47 L399.25 99.41 L399.50 99.34 L399.75 99.29 L400.00 99.23 L400.25 99.18 L400.50 99.14 L400.75 99.10 L401.00 99.06 L401.25 99.04 L401.50 99.02 L401.75 99.00 L402.00 99.00 L402.25 99.00 L402.50 99.02 L402.75 99.03 L403.00 99.06 L403.25 99.08 L403.50 99.10 L403.75 99.13 L404.00 99.14 L404.25 99.16 L404.50 99.16 L404.75 99.15 L405.00 99.13 L405.25 99.11 L405.50 99.08 L405.75 99.04 L406.00 99.00 L406.25 98.97 L406.50 98.94 L406.75 98.92 L407.00 98.90 L407.25 98.90 L407.50 98.90 L407.75 98.91 L408.00 98.91 L408.25 98.91 L408.50 98.91 L408.75 98.92 L409.00 98.92 L409.25 98.93 L409.50 98.93 L409.75 98.94 L410.00 98.95 L410.25 98.96 L410.50 98.97 L410.75 98.99 L411.00 99.02 L411.25 99.04 L411.50 99.07 L411.75 99.09 L412.00 99.12 L412.25 99.15 L412.50 99.19 L412.75 99.24 L413.00 99.30 L413.25 99.36 L413.50 99.43 L413.75 99.50 L414.00 99.56 L414.25 99.62 L414.50 99.66 L414.75 99.68 L415.00 99.68 L415.25 99.67 L415.50 99.65 L415.75 99.62 L416.00 99.59 L416.25 99.55 L416.50 99.50 L416.75 99.46 L417.00 99.41 L417.25 99.37 L417.50 99.33 L417.75 99.29 L418.00 99.25 L418.25 99.20 L418.50 99.15 L418.75 99.10 L419.00 99.05 L419.25 99.01 L419.50 98.98 L419.75 98.96 L420.00 98.94 L420.25 98.94 L420.50 98.94 L420.75 98.94 L421.00 98.94 L421.25 98.94 L421.50 98.94 L421.75 98.94 L422.00 98.94 L422.25 98.94 L422.50 98.94 L422.75 98.94 L423.00 98.95 L423.25 98.97 L423.50 98.99 L423.75 99.02 L424.00 99.06 L424.25 99.09 L424.50 99.12 L424.75 99.14 L425.00 99.16 L425.25 99.17 L425.50 99.17 L425.75 99.15 L426.00 99.11 L426.25 99.08 L426.50 99.03 L426.75 98.98 L427.00 98.94 L427.25 98.90 L427.50 98.87 L427.75 98.85 L428.00 98.85 L428.25 98.85 L428.50 98.85 L428.75 98.85 L429.00 98.85 L429.25 98.85 L429.50 98.85 L429.75 98.85 L430.00 98.85 L430.25 98.85 L430.50 98.85 L430.75 98.86 L431.00 98.89 L431.25 98.93 L431.50 98.99 L431.75 99.04 L432.00 99.10 L432.25 99.16 L432.50 99.21 L432.75 99.24 L433.00 99.26 L433.25 99.26 L433.50 99.23 L433.75 99.17 L434.00 99.11 L434.25 99.03 L434.50 98.95 L434.75 98.88 L435.00 98.81 L435.25 98.75 L435.50 98.72 L435.75 98.71 L436.00 98.73 L436.25 98.77 L436.50 98.83 L436.75 98.90 L437.00 98.97 L437.25 99.04 L437.50 99.11 L437.75 99.17 L438.00 99.21 L438.25 99.23 L438.50 99.23 L438.75 99.22 L439.00 99.20 L439.25 99.18 L439.50 99.16 L439.75 99.14 L440.00 99.12 L440.25 99.10 L440.50 99.08 L440.75 99.08 L441.00 99.08 L441.25 99.10 L441.50 99.13 L441.75 99.18 L442.00 99.24 L442.25 99.30 L442.50 99.36 L442.75 99.42 L443.00 99.47 L443.25 99.51 L443.50 99.53 L443.75 99.54 L444.00 99.55 L444.25 99.55 L444.50 99.56 L444.75 99.57 L445.00 99.57 L445.25 99.58 L445.50 99.58 L445.75 99.58 L446.00 99.58 L446.25 99.58 L446.50 99.58 L446.75 99.57 L447.00 99.56 L447.25 99.55 L447.50 99.54 L447.75 99.53 L448.00 99.53 L448.25 99.52 L448.50 99.51 L448.75 99.51 L449.00 99.51 L449.25 99.51 L449.50 99.51 L449.75 99.51 L450.00 99.51 L450.25 99.51 L450.50 99.51 L450.75 99.52 L451.00 99.52 L451.25 99.52 L451.50 99.51 L451.75 99.48 L452.00 99.44 L452.25 99.39 L452.50 99.34 L452.75 99.28 L453.00 99.22 L453.25 99.17 L453.50 99.13 L453.75 99.11 L454.00 99.11 L454.25 99.13 L454.50 99.16 L454.75 99.21 L455.00 99.26 L455.25 99.31 L455.50 99.37 L455.75 99.42 L456.00 99.46 L456.25 99.49 L456.50 99.50 L456.75 99.48 L457.00 99.45 L457.25 99.41 L457.50 99.36 L457.75 99.30 L458.00 99.24 L458.25 99.18 L458.50 99.13 L458.75 99.09 L459.00 99.07 L459.25 99.08 L459.50 99.09 L459.75 99.12 L460.00 99.16 L460.25 99.20 L460.50 99.24 L460.75 99.29 L461.00 99.32 L461.25 99.35 L461.50 99.37 L461.75 99.38 L462.00 99.37 L462.25 99.34 L462.50 99.31 L462.75 99.27 L463.00 99.22 L463.25 99.18 L463.50 99.13 L463.75 99.10 L464.00 99.07 L464.25 99.06 L464.50 99.06 L464.75 99.07 L465.00 99.09 L465.25 99.11 L465.50 99.13 L465.75 99.16 L466.00 99.18 L466.25 99.20 L466.50 99.21 L466.75 99.22 L467.00 99.22 L467.25 99.20 L467.50 99.15 L467.75 99.10 L468.00 99.03 L468.25 98.96 L468.50 98.89 L468.75 98.83 L469.00 98.77 L469.25 98.74 L469.50 98.73 L469.75 98.73 L470.00 98.74 L470.25 98.75 L470.50 98.77 L470.75 98.79 L471.00 98.82 L471.25 98.85 L471.50 98.88 L471.75 98.92 L472.00 98.95 L472.25 98.99 L472.50 99.07 L472.75 99.17 L473.00 99.29 L473.25 99.41 L473.50 99.54 L473.75 99.66 L474.00 99.77 L474.25 99.85 L474.50 99.90 L474.75 99.92 L475.00 99.88 L475.25 99.81 L475.50 99.70 L475.75 99.57 L476.00 99.44 L476.25 99.30 L476.50 99.17 L476.75 99.07 L477.00 98.99 L477.25 98.96 L477.50 98.97 L477.75 99.01 L478.00 99.07 L478.25 99.14 L478.50 99.22 L478.75 99.31 L479.00 99.39 L479.25 99.47 L479.50 99.52 L479.75 99.55 L480.00 99.56 L480.25 99.56 L480.50 99.55 L480.75 99.55 L481.00 99.54 L481.25 99.53 L481.50 99.53 L481.75 99.52 L482.00 99.52 L482.25 99.51 L482.50 99.51 L482.75 99.51 L483.00 99.52 L483.25 99.53 L483.50 99.54 L483.75 99.56 L484.00 99.57 L484.25 99.59 L484.50 99.60 L484.75 99.61 L485.00 99.61 L485.25 99.61 L485.50 99.59 L485.75 99.56 L486.00 99.52 L486.25 99.48 L486.50 99.43 L486.75 99.39 L487.00 99.35 L487.25 99.32 L487.50 99.30 L487.75 99.29 L488.00 99.30 L488.25 99.31 L488.50 99.33 L488.75 99.35 L489.00 99.37 L489.25 99.39 L489.50 99.42 L489.75 99.43 L490.00 99.45 L490.25 99.45 L490.50 99.44 L490.75 99.40 L491.00 99.33 L491.25 99.25 L491.50 99.15 L491.75 99.05 L492.00 98.96 L492.25 98.87 L492.50 98.81 L492.75 98.77 L493.00 98.77 L493.25 98.77 L493.50 98.77 L493.75 98.77 L494.00 98.77 L494.25 98.77 L494.50 98.77 L494.75 98.77 L495.00 98.78 L495.25 98.78 L495.50 98.78 L495.75 98.78 L496.00 98.80 L496.25 98.82 L496.50 98.84 L496.75 98.86 L497.00 98.88 L497.25 98.91 L497.50 98.93 L497.75 98.94 L498.00 98.95 L498.25 98.95 L498.50 98.94 L498.75 98.94 L499.00 98.94 L499.25 98.93 L499.50 98.92 L499.75 98.92 L500.00 98.91 L500.25 98.90 L500.50 98.89 L500.75 98.89 L501.00 98.88 L501.25 98.87 L501.50 98.87 L501.75 98.86 L502.00 98.85 L502.25 98.84 L502.50 98.84 L502.75 98.83 L503.00 98.83 L503.25 98.83 L503.50 98.83 L503.75 98.83 L504.00 98.83 L504.25 98.83 L504.50 98.84 L504.75 98.84 L505.00 98.85 L505.25 98.85 L505.50 98.86 L505.75 98.86 L506.00 98.87 L506.25 98.90 L506.50 98.95 L506.75 99.02 L507.00 99.09 L507.25 99.17 L507.50 99.25 L507.75 99.32 L508.00 99.37 L508.25 99.41 L508.50 99.42 L508.75 99.41 L509.00 99.38 L509.25 99.33 L509.50 99.27 L509.75 99.20 L510.00 99.13 L510.25 99.07 L510.50 99.02 L510.75 98.98 L511.00 98.95 L511.25 98.96 L511.50 99.02 L511.75 99.11 L512.00 99.23 L512.25 99.36 L512.50 99.51 L512.75 99.65 L513.00 99.77 L513.25 99.87 L513.50 99.93 L513.75 99.95 L514.00 99.94 L514.25 99.92 L514.50 99.89 L514.75 99.85 L515.00 99.80 L515.25 99.76 L515.50 99.71 L515.75 99.67 L516.00 99.64 L516.25 99.61 L516.50 99.58 L516.75 99.56 L517.00 99.54 L517.25 99.51 L517.50 99.49 L517.75 99.47 L518.00 99.45 L518.25 99.44 L518.50 99.43 L518.75 99.42 L519.00 99.42 L519.25 99.43 L519.50 99.45 L519.75 99.48 L520.00 99.51 L520.25 99.54 L520.50 99.57 L520.75 99.60 L521.00 99.62 L521.25 99.64 L521.50 99.64 L521.75 99.63 L522.00 99.59 L522.25 99.53 L522.50 99.45 L522.75 99.37 L523.00 99.29 L523.25 99.21 L523.50 99.15 L523.75 99.10 L524.00 99.07 L524.25 99.08 L524.50 99.13 L524.75 99.21 L525.00 99.31 L525.25 99.43 L525.50 99.55 L525.75 99.67 L526.00 99.78 L526.25 99.87 L526.50 99.92 L526.75 99.94 L527.00 99.93 L527.25 99.93 L527.50 99.92 L527.75 99.91 L528.00 99.90 L528.25 99.88 L528.50 99.87 L528.75 99.85 L529.00 99.84 L529.25 99.83 L529.50 99.82 L529.75 99.80 L530.00 99.79 L530.25 99.78 L530.50 99.77 L530.75 99.76 L531.00 99.74 L531.25 99.73 L531.50 99.71 L531.75 99.69 L532.00 99.67 L532.25 99.65 L532.50 99.61 L532.75 99.57 L533.00 99.53 L533.25 99.49 L533.50 99.45 L533.75 99.42 L534.00 99.39 L534.25 99.37 L534.50 99.37 L534.75 99.38 L535.00 99.41 L535.25 99.46 L535.50 99.52 L535.75 99.59 L536.00 99.66 L536.25 99.72 L536.50 99.78 L536.75 99.82 L537.00 99.84 L537.25 99.84 L537.50 99.84 L537.75 99.84 L538.00 99.84 L538.25 99.83 L538.50 99.82 L538.75 99.81 L539.00 99.79 L539.25 99.77 L539.50 99.74" stroke="#0072BD" stroke-width="1.47" fill="none" stroke-linejoin="round" stroke-linecap="butt"/>
<path d="M323.50 29.60 L367.20 29.60 L367.40 41.09 L367.61 52.52 L367.81 63.80 L368.02 74.87 L368.23 85.66 L368.43 96.11 L368.63 106.15 L368.84 115.71 L369.05 124.74 L369.25 133.19 L369.45 141.00 L369.66 148.12 L369.87 154.51 L370.07 160.13 L370.27 164.95 L370.48 168.93 L370.69 172.05 L370.89 174.30 L371.10 175.65 L371.30 176.10 L371.50 175.74 L371.71 174.65 L371.91 172.85 L372.11 170.36 L372.32 167.21 L372.52 163.45 L372.73 159.11 L372.93 154.26 L373.13 148.96 L373.34 143.27 L373.54 137.26 L373.74 131.01 L373.95 124.59 L374.15 118.10 L374.35 111.61 L374.56 105.19 L374.76 98.94 L374.96 92.93 L375.17 87.24 L375.37 81.94 L375.57 77.09 L375.78 72.75 L375.98 68.99 L376.19 65.84 L376.39 63.35 L376.59 61.55 L376.80 60.46 L377.00 60.10 L377.20 60.47 L377.40 61.59 L377.60 63.43 L377.80 65.96 L378.00 69.14 L378.20 72.91 L378.40 77.22 L378.60 81.97 L378.80 87.11 L379.00 92.53 L379.20 98.14 L379.40 103.85 L379.60 109.56 L379.80 115.17 L380.00 120.59 L380.20 125.72 L380.40 130.48 L380.60 134.79 L380.80 138.56 L381.00 141.74 L381.20 144.27 L381.40 146.11 L381.60 147.23 L381.80 147.60 L382.01 147.37 L382.21 146.66 L382.42 145.51 L382.63 143.91 L382.84 141.89 L383.04 139.48 L383.25 136.71 L383.46 133.62 L383.67 130.25 L383.87 126.64 L384.08 122.85 L384.29 118.93 L384.50 114.92 L384.70 110.88 L384.91 106.87 L385.12 102.95 L385.33 99.16 L385.53 95.55 L385.74 92.18 L385.95 89.09 L386.16 86.32 L386.36 83.91 L386.57 81.89 L386.78 80.29 L386.99 79.14 L387.19 78.43 L387.40 78.20 L387.60 78.42 L387.80 79.09 L388.00 80.18 L388.20 81.69 L388.40 83.58 L388.60 85.83 L388.80 88.39 L389.00 91.22 L389.20 94.28 L389.40 97.51 L389.60 100.85 L389.80 104.25 L390.00 107.65 L390.20 110.99 L390.40 114.22 L390.60 117.28 L390.80 120.11 L391.00 122.67 L391.20 124.92 L391.40 126.81 L391.60 128.32 L391.80 129.41 L392.00 130.08 L392.20 130.30 L392.41 130.14 L392.62 129.65 L392.82 128.85 L393.03 127.74 L393.24 126.35 L393.45 124.69 L393.66 122.79 L393.86 120.69 L394.07 118.41 L394.28 116.00 L394.49 113.48 L394.70 110.90 L394.90 108.30 L395.11 105.72 L395.32 103.20 L395.53 100.79 L395.74 98.51 L395.94 96.41 L396.15 94.51 L396.36 92.85 L396.57 91.46 L396.78 90.35 L396.98 89.55 L397.19 89.06 L397.40 88.90 L397.60 89.02 L397.80 89.39 L398.00 90.00 L398.20 90.84 L398.40 91.90 L398.60 93.16 L398.80 94.59 L399.00 96.19 L399.20 97.92 L399.40 99.75 L399.60 101.66 L399.80 103.61 L400.00 105.59 L400.20 107.54 L400.40 109.45 L400.60 111.28 L400.80 113.01 L401.00 114.61 L401.20 116.04 L401.40 117.30 L401.60 118.36 L401.80 119.20 L402.00 119.81 L402.20 120.18 L402.40 120.30 L402.60 120.20 L402.81 119.91 L403.01 119.43 L403.22 118.76 L403.42 117.92 L403.62 116.93 L403.83 115.79 L404.03 114.52 L404.24 113.15 L404.44 111.70 L404.64 110.18 L404.85 108.63 L405.05 107.07 L405.26 105.52 L405.46 104.00 L405.66 102.55 L405.87 101.18 L406.07 99.91 L406.28 98.77 L406.48 97.78 L406.68 96.94 L406.89 96.27 L407.09 95.79 L407.30 95.50 L407.50 95.40 L407.70 95.47 L407.91 95.70 L408.11 96.06 L408.32 96.56 L408.52 97.20 L408.72 97.95 L408.93 98.81 L409.13 99.76 L409.34 100.80 L409.54 101.90 L409.74 103.04 L409.95 104.21 L410.15 105.39 L410.36 106.56 L410.56 107.70 L410.76 108.80 L410.97 109.84 L411.17 110.79 L411.38 111.65 L411.58 112.40 L411.78 113.04 L411.99 113.54 L412.19 113.90 L412.40 114.13 L412.60 114.20 L412.81 114.14 L413.02 113.96 L413.22 113.67 L413.43 113.27 L413.64 112.77 L413.85 112.17 L414.06 111.48 L414.26 110.72 L414.47 109.89 L414.68 109.02 L414.89 108.11 L415.10 107.17 L415.30 106.23 L415.51 105.29 L415.72 104.38 L415.93 103.51 L416.14 102.68 L416.34 101.92 L416.55 101.23 L416.76 100.63 L416.97 100.13 L417.18 99.73 L417.38 99.44 L417.59 99.26 L417.80 99.20 L418.00 99.25 L418.20 99.38 L418.40 99.61 L418.60 99.92 L418.80 100.31 L419.00 100.77 L419.20 101.30 L419.40 101.89 L419.60 102.53 L419.80 103.21 L420.00 103.91 L420.20 104.64 L420.40 105.36 L420.60 106.09 L420.80 106.79 L421.00 107.47 L421.20 108.11 L421.40 108.70 L421.60 109.23 L421.80 109.69 L422.00 110.08 L422.20 110.39 L422.40 110.62 L422.60 110.75 L422.80 110.80 L423.01 110.77 L423.22 110.67 L423.42 110.51 L423.63 110.29 L423.84 110.01 L424.05 109.68 L424.25 109.30 L424.46 108.88 L424.67 108.42 L424.88 107.93 L425.08 107.41 L425.29 106.89 L425.50 106.35 L425.71 105.81 L425.92 105.29 L426.12 104.77 L426.33 104.28 L426.54 103.82 L426.75 103.40 L426.95 103.02 L427.16 102.69 L427.37 102.41 L427.58 102.19 L427.78 102.03 L427.99 101.93 L428.20 101.90 L428.40 101.93 L428.61 102.01 L428.81 102.14 L429.02 102.31 L429.22 102.54 L429.42 102.81 L429.63 103.11 L429.83 103.45 L430.04 103.82 L430.24 104.21 L430.44 104.62 L430.65 105.04 L430.85 105.46 L431.06 105.88 L431.26 106.29 L431.46 106.68 L431.67 107.05 L431.87 107.39 L432.08 107.69 L432.28 107.96 L432.48 108.19 L432.69 108.36 L432.89 108.49 L433.10 108.57 L433.30 108.60 L433.50 108.58 L433.70 108.52 L433.90 108.41 L434.10 108.27 L434.30 108.08 L434.50 107.87 L434.70 107.62 L434.90 107.35 L435.10 107.05 L435.30 106.73 L435.50 106.41 L435.70 106.07 L435.90 105.73 L436.10 105.39 L436.30 105.07 L436.50 104.75 L436.70 104.45 L436.90 104.18 L437.10 103.93 L437.30 103.72 L437.50 103.53 L437.70 103.39 L437.90 103.28 L438.10 103.22 L438.30 103.20 L438.50 103.22 L438.71 103.27 L438.91 103.35 L439.12 103.46 L439.32 103.60 L439.52 103.77 L439.73 103.96 L439.93 104.17 L440.14 104.41 L440.34 104.65 L440.54 104.91 L440.75 105.17 L440.95 105.43 L441.16 105.69 L441.36 105.95 L441.56 106.19 L441.77 106.43 L441.97 106.64 L442.18 106.83 L442.38 107.00 L442.58 107.14 L442.79 107.25 L442.99 107.33 L443.20 107.38 L443.40 107.40 L443.60 107.39 L443.81 107.36 L444.01 107.30 L444.21 107.23 L444.42 107.14 L444.62 107.03 L444.83 106.90 L445.03 106.76 L445.23 106.60 L445.44 106.43 L445.64 106.26 L445.84 106.08 L446.05 105.89 L446.25 105.71 L446.46 105.52 L446.66 105.34 L446.86 105.17 L447.07 105.00 L447.27 104.84 L447.47 104.70 L447.68 104.57 L447.88 104.46 L448.09 104.37 L448.29 104.30 L448.49 104.24 L448.70 104.21 L448.90 104.20 L449.10 104.21 L449.31 104.24 L449.51 104.28 L449.72 104.34 L449.92 104.42 L450.12 104.51 L450.33 104.62 L450.53 104.73 L450.74 104.86 L450.94 104.99 L451.14 105.13 L451.35 105.28 L451.55 105.42 L451.76 105.57 L451.96 105.71 L452.16 105.84 L452.37 105.97 L452.57 106.08 L452.78 106.19 L452.98 106.28 L453.18 106.36 L453.39 106.42 L453.59 106.46 L453.80 106.49 L454.00 106.50 L454.20 106.49 L454.41 106.47 L454.61 106.44 L454.82 106.39 L455.02 106.34 L455.22 106.27 L455.43 106.19 L455.63 106.11 L455.84 106.01 L456.04 105.91 L456.24 105.81 L456.45 105.70 L456.65 105.60 L456.86 105.49 L457.06 105.39 L457.26 105.29 L457.47 105.19 L457.67 105.11 L457.88 105.03 L458.08 104.96 L458.28 104.91 L458.49 104.86 L458.69 104.83 L458.90 104.81 L459.10 104.80 L459.30 104.81 L459.51 104.82 L459.71 104.85 L459.92 104.88 L460.12 104.92 L460.32 104.98 L460.53 105.04 L460.73 105.10 L460.94 105.17 L461.14 105.25 L461.34 105.33 L461.55 105.41 L461.75 105.49 L461.96 105.57 L462.16 105.65 L462.36 105.73 L462.57 105.80 L462.77 105.86 L462.98 105.92 L463.18 105.98 L463.38 106.02 L463.59 106.05 L463.79 106.08 L464.00 106.09 L464.20 106.10 L464.40 106.10 L464.61 106.08 L464.81 106.06 L465.02 106.03 L465.22 105.99 L465.42 105.95 L465.63 105.90 L465.83 105.84 L466.04 105.78 L466.24 105.72 L466.44 105.65 L466.65 105.58 L466.85 105.52 L467.06 105.45 L467.26 105.38 L467.46 105.32 L467.67 105.26 L467.87 105.20 L468.08 105.15 L468.28 105.11 L468.48 105.07 L468.69 105.04 L468.89 105.02 L469.10 105.00 L469.30 105.00 L469.51 105.00 L469.72 105.01 L469.92 105.03 L470.13 105.05 L470.34 105.08 L470.55 105.11 L470.76 105.15 L470.96 105.19 L471.17 105.23 L471.38 105.28 L471.59 105.33 L471.80 105.37 L472.00 105.43 L472.21 105.47 L472.42 105.52 L472.63 105.57 L472.84 105.61 L473.04 105.65 L473.25 105.69 L473.46 105.72 L473.67 105.75 L473.88 105.77 L474.08 105.79 L474.29 105.80 L474.50 105.80 L474.70 105.80 L474.91 105.79 L475.11 105.78 L475.32 105.76 L475.52 105.74 L475.72 105.72 L475.93 105.69 L476.13 105.66 L476.34 105.63 L476.54 105.59 L476.74 105.56 L476.95 105.52 L477.15 105.48 L477.36 105.44 L477.56 105.41 L477.76 105.37 L477.97 105.34 L478.17 105.31 L478.38 105.28 L478.58 105.26 L478.78 105.24 L478.99 105.22 L479.19 105.21 L479.40 105.20 L479.60 105.20 L479.81 105.20 L480.02 105.21 L480.22 105.21 L480.43 105.22 L480.64 105.24 L480.85 105.25 L481.06 105.27 L481.26 105.29 L481.47 105.31 L481.68 105.34 L481.89 105.36 L482.10 105.39 L482.30 105.41 L482.51 105.44 L482.72 105.46 L482.93 105.49 L483.14 105.51 L483.34 105.53 L483.55 105.55 L483.76 105.56 L483.97 105.58 L484.18 105.59 L484.38 105.59 L484.59 105.60 L484.80 105.60 L541.50 105.40" stroke="#D95319" stroke-width="1.30" fill="none" stroke-linejoin="round" stroke-linecap="butt"/>
<path d="M345.30 180.60 v-2.00 M345.30 8.40 v2.00 M367.10 180.60 v-2.00 M367.10 8.40 v2.00 M388.90 180.60 v-2.00 M388.90 8.40 v2.00 M410.70 180.60 v-2.00 M410.70 8.40 v2.00 M432.50 180.60 v-2.00 M432.50 8.40 v2.00 M454.30 180.60 v-2.00 M454.30 8.40 v2.00 M476.10 180.60 v-2.00 M476.10 8.40 v2.00 M497.90 180.60 v-2.00 M497.90 8.40 v2.00 M519.70 180.60 v-2.00 M519.70 8.40 v2.00 M323.50 159.07 h2.00 M541.50 159.07 h-2.00 M323.50 137.55 h2.00 M541.50 137.55 h-2.00 M323.50 116.03 h2.00 M541.50 116.03 h-2.00 M323.50 94.50 h2.00 M541.50 94.50 h-2.00 M323.50 72.98 h2.00 M541.50 72.98 h-2.00 M323.50 51.45 h2.00 M541.50 51.45 h-2.00 M323.50 29.93 h2.00 M541.50 29.93 h-2.00" stroke="#8e8e8e" stroke-width="0.8" fill="none"/>
<rect x="323.50" y="8.40" width="218.00" height="172.20" fill="none" stroke="#8e8e8e" stroke-width="1.25"/>
<text x="323.50" y="189.80" text-anchor="middle" class="tk">-0.02</text>
<text x="345.30" y="189.80" text-anchor="middle" class="tk">-0.01</text>
<text x="367.10" y="189.80" text-anchor="middle" class="tk">0</text>
<text x="388.90" y="189.80" text-anchor="middle" class="tk">0.01</text>
<text x="410.70" y="189.80" text-anchor="middle" class="tk">0.02</text>
<text x="432.50" y="189.80" text-anchor="middle" class="tk">0.03</text>
<text x="454.30" y="189.80" text-anchor="middle" class="tk">0.04</text>
<text x="476.10" y="189.80" text-anchor="middle" class="tk">0.05</text>
<text x="497.90" y="189.80" text-anchor="middle" class="tk">0.06</text>
<text x="519.70" y="189.80" text-anchor="middle" class="tk">0.07</text>
<text x="541.50" y="189.80" text-anchor="middle" class="tk">0.08</text>
<text x="321.10" y="182.75" text-anchor="end" class="tk">0</text>
<text x="321.10" y="161.22" text-anchor="end" class="tk">0.2</text>
<text x="321.10" y="139.70" text-anchor="end" class="tk">0.4</text>
<text x="321.10" y="118.18" text-anchor="end" class="tk">0.6</text>
<text x="321.10" y="96.65" text-anchor="end" class="tk">0.8</text>
<text x="321.10" y="75.13" text-anchor="end" class="tk">1</text>
<text x="321.10" y="53.60" text-anchor="end" class="tk">1.2</text>
<text x="321.10" y="32.08" text-anchor="end" class="tk">1.4</text>
<text x="321.10" y="10.55" text-anchor="end" class="tk">1.6</text>
<text x="432.50" y="199.20" text-anchor="middle" class="lb">time (s)</text>
<text transform="translate(307.40 95.00) rotate(-90)" text-anchor="middle" class="lb">inductor current IL1 (A)</text>
<rect x="435.60" y="14.90" width="99.00" height="17.10" fill="#fff" stroke="#555" stroke-width="0.7"/>
<path d="M438.80 20.10 h20.6" stroke="#0072BD" stroke-width="1.35"/>
<text x="461.60" y="22.20" class="lg">exp. in scenario #1 (w/ FF)</text>
<path d="M438.80 27.70 h20.6" stroke="#D95319" stroke-width="1.35"/>
<text x="461.60" y="29.80" class="lg">sim. in scenario #1 (w/ FF)</text>
<text x="427.20" y="217.10" text-anchor="middle" class="cap">(<tspan font-weight="bold">b</tspan>)</text>
<path d="M50.30 237.30 V409.60 M72.10 237.30 V409.60 M93.90 237.30 V409.60 M115.70 237.30 V409.60 M137.50 237.30 V409.60 M159.30 237.30 V409.60 M181.10 237.30 V409.60 M202.90 237.30 V409.60 M224.70 237.30 V409.60" stroke="#eaeaea" stroke-width="0.9" fill="none"/>
<path d="M28.50 385.62 H246.50 M28.50 361.63 H246.50 M28.50 337.65 H246.50 M28.50 313.66 H246.50 M28.50 289.68 H246.50 M28.50 265.70 H246.50 M28.50 241.71 H246.50" stroke="#eeeeee" stroke-width="0.9" fill="none"/>
<path d="M28.50 264.11 L28.75 264.14 L29.00 264.17 L29.25 264.20 L29.50 264.23 L29.75 264.25 L30.00 264.27 L30.25 264.29 L30.50 264.30 L30.75 264.31 L31.00 264.32 L31.25 264.33 L31.50 264.33 L31.75 264.33 L32.00 264.32 L32.25 264.31 L32.50 264.30 L32.75 264.28 L33.00 264.27 L33.25 264.25 L33.50 264.23 L33.75 264.22 L34.00 264.20 L34.25 264.18 L34.50 264.17 L34.75 264.16 L35.00 264.14 L35.25 264.13 L35.50 264.11 L35.75 264.09 L36.00 264.08 L36.25 264.06 L36.50 264.05 L36.75 264.04 L37.00 264.03 L37.25 264.02 L37.50 264.02 L37.75 264.02 L38.00 264.03 L38.25 264.05 L38.50 264.07 L38.75 264.09 L39.00 264.11 L39.25 264.13 L39.50 264.15 L39.75 264.16 L40.00 264.18 L40.25 264.19 L40.50 264.19 L40.75 264.19 L41.00 264.18 L41.25 264.16 L41.50 264.14 L41.75 264.11 L42.00 264.09 L42.25 264.06 L42.50 264.03 L42.75 264.01 L43.00 264.00 L43.25 263.98 L43.50 263.98 L43.75 263.98 L44.00 263.98 L44.25 263.98 L44.50 263.98 L44.75 263.99 L45.00 263.99 L45.25 263.99 L45.50 264.00 L45.75 264.00 L46.00 264.01 L46.25 264.01 L46.50 264.02 L46.75 264.03 L47.00 264.05 L47.25 264.08 L47.50 264.12 L47.75 264.17 L48.00 264.21 L48.25 264.26 L48.50 264.31 L48.75 264.35 L49.00 264.38 L49.25 264.41 L49.50 264.43 L49.75 264.44 L50.00 264.45 L50.25 264.45 L50.50 264.46 L50.75 264.47 L51.00 264.47 L51.25 264.48 L51.50 264.48 L51.75 264.49 L52.00 264.49 L52.25 264.50 L52.50 264.51 L52.75 264.52 L53.00 264.53 L53.25 264.55 L53.50 264.57 L53.75 264.59 L54.00 264.61 L54.25 264.62 L54.50 264.64 L54.75 264.66 L55.00 264.67 L55.25 264.67 L55.50 264.68 L55.75 264.68 L56.00 264.67 L56.25 264.67 L56.50 264.67 L56.75 264.67 L57.00 264.66 L57.25 264.66 L57.50 264.65 L57.75 264.65 L58.00 264.64 L58.25 264.64 L58.50 264.63 L58.75 264.62 L59.00 264.61 L59.25 264.60 L59.50 264.59 L59.75 264.58 L60.00 264.56 L60.25 264.54 L60.50 264.53 L60.75 264.51 L61.00 264.49 L61.25 264.47 L61.50 264.45 L61.75 264.43 L62.00 264.41 L62.25 264.38 L62.50 264.35 L62.75 264.32 L63.00 264.29 L63.25 264.26 L63.50 264.23 L63.75 264.21 L64.00 264.19 L64.25 264.18 L64.50 264.17 L64.75 264.18 L65.00 264.20 L65.25 264.22 L65.50 264.26 L65.75 264.29 L66.00 264.33 L66.25 264.37 L66.50 264.41 L66.75 264.44 L67.00 264.47 L67.25 264.49 L67.50 264.49 L67.75 264.48 L68.00 264.46 L68.25 264.43 L68.50 264.39 L68.75 264.34 L69.00 264.29 L69.25 264.24 L69.50 264.18 L69.75 264.13 L70.00 264.09 L70.25 264.05 L70.50 264.02 L70.75 264.00 L71.00 264.01 L71.25 264.09 L71.50 264.25 L71.75 264.47 L72.00 264.73 L72.25 265.00 L72.50 265.27 L72.75 265.53 L73.00 265.75 L73.25 265.91 L73.50 265.99 L73.75 265.86 L74.00 265.09 L74.25 263.82 L74.50 262.29 L74.75 260.69 L75.00 259.24 L75.25 258.15 L75.50 257.42 L75.75 256.70 L76.00 256.03 L76.25 255.44 L76.50 255.00 L76.75 254.75 L77.00 254.71 L77.25 254.76 L77.50 254.86 L77.75 254.97 L78.00 255.08 L78.25 255.17 L78.50 255.20 L78.75 255.06 L79.00 254.70 L79.25 254.18 L79.50 253.57 L79.75 252.95 L80.00 252.37 L80.25 251.92 L80.50 251.48 L80.75 251.01 L81.00 250.54 L81.25 250.09 L81.50 249.68 L81.75 249.33 L82.00 249.07 L82.25 248.93 L82.50 248.92 L82.75 249.11 L83.00 249.46 L83.25 249.93 L83.50 250.48 L83.75 251.06 L84.00 251.62 L84.25 252.11 L84.50 252.50 L84.75 252.80 L85.00 253.07 L85.25 253.32 L85.50 253.56 L85.75 253.78 L86.00 254.01 L86.25 254.24 L86.50 254.49 L86.75 254.76 L87.00 255.05 L87.25 255.36 L87.50 255.68 L87.75 256.01 L88.00 256.35 L88.25 256.68 L88.50 257.00 L88.75 257.31 L89.00 257.60 L89.25 257.86 L89.50 258.09 L89.75 258.30 L90.00 258.49 L90.25 258.66 L90.50 258.83 L90.75 259.00 L91.00 259.17 L91.25 259.34 L91.50 259.52 L91.75 259.72 L92.00 259.93 L92.25 260.15 L92.50 260.37 L92.75 260.60 L93.00 260.83 L93.25 261.07 L93.50 261.30 L93.75 261.52 L94.00 261.73 L94.25 261.94 L94.50 262.13 L94.75 262.30 L95.00 262.46 L95.25 262.61 L95.50 262.75 L95.75 262.89 L96.00 263.02 L96.25 263.15 L96.50 263.28 L96.75 263.39 L97.00 263.51 L97.25 263.62 L97.50 263.72 L97.75 263.83 L98.00 263.92 L98.25 264.02 L98.50 264.11 L98.75 264.20 L99.00 264.29 L99.25 264.38 L99.50 264.47 L99.75 264.55 L100.00 264.64 L100.25 264.72 L100.50 264.80 L100.75 264.88 L101.00 264.95 L101.25 265.02 L101.50 265.10 L101.75 265.17 L102.00 265.23 L102.25 265.30 L102.50 265.36 L102.75 265.42 L103.00 265.47 L103.25 265.53 L103.50 265.58 L103.75 265.63 L104.00 265.67 L104.25 265.72 L104.50 265.76 L104.75 265.80 L105.00 265.84 L105.25 265.87 L105.50 265.91 L105.75 265.94 L106.00 265.97 L106.25 266.00 L106.50 266.04 L106.75 266.07 L107.00 266.10 L107.25 266.13 L107.50 266.16 L107.75 266.20 L108.00 266.23 L108.25 266.27 L108.50 266.30 L108.75 266.34 L109.00 266.38 L109.25 266.43 L109.50 266.47 L109.75 266.52 L110.00 266.57 L110.25 266.62 L110.50 266.68 L110.75 266.73 L111.00 266.79 L111.25 266.84 L111.50 266.90 L111.75 266.96 L112.00 267.01 L112.25 267.07 L112.50 267.13 L112.75 267.18 L113.00 267.23 L113.25 267.28 L113.50 267.33 L113.75 267.38 L114.00 267.42 L114.25 267.46 L114.50 267.50 L114.75 267.53 L115.00 267.57 L115.25 267.60 L115.50 267.63 L115.75 267.66 L116.00 267.68 L116.25 267.71 L116.50 267.73 L116.75 267.76 L117.00 267.78 L117.25 267.81 L117.50 267.83 L117.75 267.85 L118.00 267.88 L118.25 267.90 L118.50 267.93 L118.75 267.95 L119.00 267.98 L119.25 268.01 L119.50 268.04 L119.75 268.07 L120.00 268.10 L120.25 268.13 L120.50 268.17 L120.75 268.20 L121.00 268.24 L121.25 268.28 L121.50 268.31 L121.75 268.35 L122.00 268.39 L122.25 268.43 L122.50 268.47 L122.75 268.51 L123.00 268.56 L123.25 268.60 L123.50 268.64 L123.75 268.69 L124.00 268.74 L124.25 268.78 L124.50 268.83 L124.75 268.88 L125.00 268.94 L125.25 268.99 L125.50 269.05 L125.75 269.12 L126.00 269.21 L126.25 269.30 L126.50 269.39 L126.75 269.48 L127.00 269.56 L127.25 269.63 L127.50 269.69 L127.75 269.73 L128.00 269.74 L128.25 269.74 L128.50 269.74 L128.75 269.73 L129.00 269.73 L129.25 269.72 L129.50 269.71 L129.75 269.70 L130.00 269.69 L130.25 269.68 L130.50 269.67 L130.75 269.66 L131.00 269.65 L131.25 269.63 L131.50 269.61 L131.75 269.59 L132.00 269.57 L132.25 269.54 L132.50 269.52 L132.75 269.49 L133.00 269.47 L133.25 269.45 L133.50 269.43 L133.75 269.42 L134.00 269.42 L134.25 269.42 L134.50 269.42 L134.75 269.42 L135.00 269.42 L135.25 269.41 L135.50 269.41 L135.75 269.41 L136.00 269.41 L136.25 269.41 L136.50 269.41 L136.75 269.41 L137.00 269.41 L137.25 269.41 L137.50 269.40 L137.75 269.38 L138.00 269.37 L138.25 269.35 L138.50 269.33 L138.75 269.30 L139.00 269.28 L139.25 269.27 L139.50 269.25 L139.75 269.24 L140.00 269.24 L140.25 269.23 L140.50 269.23 L140.75 269.23 L141.00 269.23 L141.25 269.23 L141.50 269.23 L141.75 269.23 L142.00 269.22 L142.25 269.22 L142.50 269.22 L142.75 269.22 L143.00 269.22 L143.25 269.22 L143.50 269.21 L143.75 269.20 L144.00 269.20 L144.25 269.19 L144.50 269.18 L144.75 269.17 L145.00 269.17 L145.25 269.16 L145.50 269.16 L145.75 269.15 L146.00 269.15 L146.25 269.16 L146.50 269.20 L146.75 269.26 L147.00 269.33 L147.25 269.40 L147.50 269.49 L147.75 269.57 L148.00 269.65 L148.25 269.72 L148.50 269.77 L148.75 269.81 L149.00 269.82 L149.25 269.82 L149.50 269.81 L149.75 269.80 L150.00 269.79 L150.25 269.78 L150.50 269.76 L150.75 269.74 L151.00 269.72 L151.25 269.70 L151.50 269.68 L151.75 269.66 L152.00 269.64 L152.25 269.61 L152.50 269.58 L152.75 269.54 L153.00 269.50 L153.25 269.46 L153.50 269.41 L153.75 269.37 L154.00 269.33 L154.25 269.30 L154.50 269.28 L154.75 269.26 L155.00 269.25 L155.25 269.26 L155.50 269.27 L155.75 269.29 L156.00 269.31 L156.25 269.34 L156.50 269.37 L156.75 269.40 L157.00 269.42 L157.25 269.45 L157.50 269.47 L157.75 269.48 L158.00 269.49 L158.25 269.48 L158.50 269.46 L158.75 269.44 L159.00 269.41 L159.25 269.38 L159.50 269.35 L159.75 269.31 L160.00 269.28 L160.25 269.25 L160.50 269.23 L160.75 269.21 L161.00 269.21 L161.25 269.21 L161.50 269.21 L161.75 269.22 L162.00 269.23 L162.25 269.24 L162.50 269.25 L162.75 269.27 L163.00 269.28 L163.25 269.30 L163.50 269.32 L163.75 269.33 L164.00 269.35 L164.25 269.38 L164.50 269.41 L164.75 269.45 L165.00 269.50 L165.25 269.55 L165.50 269.60 L165.75 269.64 L166.00 269.69 L166.25 269.73 L166.50 269.76 L166.75 269.78 L167.00 269.78 L167.25 269.78 L167.50 269.78 L167.75 269.78 L168.00 269.78 L168.25 269.77 L168.50 269.77 L168.75 269.76 L169.00 269.76 L169.25 269.75 L169.50 269.75 L169.75 269.74 L170.00 269.74 L170.25 269.73 L170.50 269.72 L170.75 269.71 L171.00 269.70 L171.25 269.69 L171.50 269.68 L171.75 269.67 L172.00 269.66 L172.25 269.65 L172.50 269.64 L172.75 269.63 L173.00 269.61 L173.25 269.60 L173.50 269.59 L173.75 269.57 L174.00 269.56 L174.25 269.54 L174.50 269.52 L174.75 269.51 L175.00 269.49 L175.25 269.48 L175.50 269.47 L175.75 269.47 L176.00 269.47 L176.25 269.47 L176.50 269.48 L176.75 269.50 L177.00 269.53 L177.25 269.56 L177.50 269.59 L177.75 269.62 L178.00 269.66 L178.25 269.69 L178.50 269.73 L178.75 269.76 L179.00 269.78 L179.25 269.81 L179.50 269.84 L179.75 269.86 L180.00 269.89 L180.25 269.92 L180.50 269.95 L180.75 269.97 L181.00 270.00 L181.25 270.02 L181.50 270.03 L181.75 270.04 L182.00 270.04 L182.25 270.04 L182.50 270.02 L182.75 269.99 L183.00 269.96 L183.25 269.92 L183.50 269.88 L183.75 269.84 L184.00 269.79 L184.25 269.75 L184.50 269.71 L184.75 269.67 L185.00 269.64 L185.25 269.61 L185.50 269.58 L185.75 269.55 L186.00 269.52 L186.25 269.49 L186.50 269.46 L186.75 269.43 L187.00 269.41 L187.25 269.39 L187.50 269.38 L187.75 269.37 L188.00 269.36 L188.25 269.36 L188.50 269.36 L188.75 269.36 L189.00 269.36 L189.25 269.36 L189.50 269.37 L189.75 269.37 L190.00 269.37 L190.25 269.37 L190.50 269.37 L190.75 269.37 L191.00 269.37 L191.25 269.37 L191.50 269.37 L191.75 269.37 L192.00 269.37 L192.25 269.38 L192.50 269.38 L192.75 269.38 L193.00 269.39 L193.25 269.39 L193.50 269.39 L193.75 269.40 L194.00 269.40 L194.25 269.42 L194.50 269.47 L194.75 269.53 L195.00 269.60 L195.25 269.68 L195.50 269.77 L195.75 269.86 L196.00 269.94 L196.25 270.01 L196.50 270.07 L196.75 270.11 L197.00 270.12 L197.25 270.12 L197.50 270.10 L197.75 270.07 L198.00 270.04 L198.25 270.00 L198.50 269.96 L198.75 269.92 L199.00 269.88 L199.25 269.85 L199.50 269.83 L199.75 269.81 L200.00 269.80 L200.25 269.81 L200.50 269.82 L200.75 269.84 L201.00 269.87 L201.25 269.90 L201.50 269.93 L201.75 269.96 L202.00 269.99 L202.25 270.02 L202.50 270.04 L202.75 270.05 L203.00 270.05 L203.25 270.04 L203.50 270.02 L203.75 269.97 L204.00 269.92 L204.25 269.86 L204.50 269.80 L204.75 269.73 L205.00 269.67 L205.25 269.62 L205.50 269.57 L205.75 269.55 L206.00 269.54 L206.25 269.54 L206.50 269.54 L206.75 269.54 L207.00 269.55 L207.25 269.55 L207.50 269.56 L207.75 269.57 L208.00 269.58 L208.25 269.59 L208.50 269.60 L208.75 269.61 L209.00 269.62 L209.25 269.64 L209.50 269.66 L209.75 269.69 L210.00 269.72 L210.25 269.76 L210.50 269.79 L210.75 269.83 L211.00 269.87 L211.25 269.90 L211.50 269.93 L211.75 269.96 L212.00 269.98 L212.25 270.00 L212.50 270.03 L212.75 270.05 L213.00 270.07 L213.25 270.09 L213.50 270.10 L213.75 270.12 L214.00 270.13 L214.25 270.15 L214.50 270.15 L214.75 270.16 L215.00 270.16 L215.25 270.16 L215.50 270.14 L215.75 270.11 L216.00 270.07 L216.25 270.03 L216.50 269.98 L216.75 269.93 L217.00 269.89 L217.25 269.84 L217.50 269.80 L217.75 269.76 L218.00 269.73 L218.25 269.71 L218.50 269.69 L218.75 269.66 L219.00 269.64 L219.25 269.62 L219.50 269.60 L219.75 269.58 L220.00 269.56 L220.25 269.55 L220.50 269.54 L220.75 269.53 L221.00 269.53 L221.25 269.54 L221.50 269.58 L221.75 269.63 L222.00 269.70 L222.25 269.78 L222.50 269.86 L222.75 269.94 L223.00 270.01 L223.25 270.08 L223.50 270.14 L223.75 270.17 L224.00 270.18 L224.25 270.17 L224.50 270.15 L224.75 270.11 L225.00 270.07 L225.25 270.02 L225.50 269.96 L225.75 269.91 L226.00 269.86 L226.25 269.81 L226.50 269.77 L226.75 269.75 L227.00 269.74 L227.25 269.75 L227.50 269.77 L227.75 269.80 L228.00 269.84 L228.25 269.88 L228.50 269.93 L228.75 269.97 L229.00 270.02 L229.25 270.06 L229.50 270.09 L229.75 270.11 L230.00 270.12 L230.25 270.11 L230.50 270.08 L230.75 270.05 L231.00 270.00 L231.25 269.95 L231.50 269.89 L231.75 269.83 L232.00 269.78 L232.25 269.74 L232.50 269.70 L232.75 269.67 L233.00 269.66 L233.25 269.67 L233.50 269.69 L233.75 269.72 L234.00 269.77 L234.25 269.81 L234.50 269.86 L234.75 269.91 L235.00 269.96 L235.25 270.01 L235.50 270.05 L235.75 270.09 L236.00 270.11 L236.25 270.13 L236.50 270.14 L236.75 270.16 L237.00 270.17 L237.25 270.19 L237.50 270.20 L237.75 270.21 L238.00 270.22 L238.25 270.23 L238.50 270.24 L238.75 270.24 L239.00 270.24 L239.25 270.24 L239.50 270.24 L239.75 270.24 L240.00 270.23 L240.25 270.23 L240.50 270.22 L240.75 270.21 L241.00 270.20 L241.25 270.20 L241.50 270.19 L241.75 270.18 L242.00 270.17 L242.25 270.15 L242.50 270.14 L242.75 270.12 L243.00 270.10 L243.25 270.08 L243.50 270.06 L243.75 270.03 L244.00 270.01 L244.25 269.98 L244.50 269.95 L244.75 269.92 L245.00 269.89" stroke="#0072BD" stroke-width="1.47" fill="none" stroke-linejoin="round" stroke-linecap="butt"/>
<path d="M28.50 275.20 L28.75 275.20 L29.00 275.20 L29.25 275.20 L29.50 275.20 L29.75 275.20 L30.00 275.20 L30.25 275.20 L30.50 275.20 L30.75 275.20 L31.00 275.20 L31.25 275.20 L31.50 275.20 L31.75 275.20 L32.00 275.20 L32.25 275.20 L32.50 275.20 L32.75 275.20 L33.00 275.20 L33.25 275.20 L33.50 275.20 L33.75 275.20 L34.00 275.20 L34.25 275.20 L34.50 275.20 L34.75 275.20 L35.00 275.20 L35.25 275.20 L35.50 275.20 L35.75 275.20 L36.00 275.20 L36.25 275.20 L36.50 275.20 L36.75 275.20 L37.00 275.20 L37.25 275.20 L37.50 275.20 L37.75 275.20 L38.00 275.20 L38.25 275.20 L38.50 275.20 L38.75 275.20 L39.00 275.20 L39.25 275.20 L39.50 275.20 L39.75 275.20 L40.00 275.20 L40.25 275.20 L40.50 275.20 L40.75 275.20 L41.00 275.20 L41.25 275.20 L41.50 275.20 L41.75 275.20 L42.00 275.20 L42.25 275.20 L42.50 275.20 L42.75 275.20 L43.00 275.20 L43.25 275.20 L43.50 275.20 L43.75 275.20 L44.00 275.20 L44.25 275.20 L44.50 275.20 L44.75 275.20 L45.00 275.20 L45.25 275.20 L45.50 275.20 L45.75 275.20 L46.00 275.20 L46.25 275.20 L46.50 275.20 L46.75 275.20 L47.00 275.20 L47.25 275.20 L47.50 275.20 L47.75 275.20 L48.00 275.20 L48.25 275.20 L48.50 275.20 L48.75 275.20 L49.00 275.20 L49.25 275.20 L49.50 275.20 L49.75 275.20 L50.00 275.20 L50.25 275.20 L50.50 275.20 L50.75 275.20 L51.00 275.20 L51.25 275.20 L51.50 275.20 L51.75 275.20 L52.00 275.20 L52.25 275.20 L52.50 275.20 L52.75 275.20 L53.00 275.20 L53.25 275.20 L53.50 275.20 L53.75 275.20 L54.00 275.20 L54.25 275.20 L54.50 275.20 L54.75 275.20 L55.00 275.20 L55.25 275.20 L55.50 275.20 L55.75 275.20 L56.00 275.20 L56.25 275.20 L56.50 275.20 L56.75 275.20 L57.00 275.20 L57.25 275.20 L57.50 275.20 L57.75 275.20 L58.00 275.20 L58.25 275.20 L58.50 275.20 L58.75 275.20 L59.00 275.20 L59.25 275.20 L59.50 275.20 L59.75 275.20 L60.00 275.20 L60.25 275.20 L60.50 275.20 L60.75 275.20 L61.00 275.20 L61.25 275.20 L61.50 275.20 L61.75 275.20 L62.00 275.20 L62.25 275.20 L62.50 275.20 L62.75 275.20 L63.00 275.20 L63.25 275.20 L63.50 275.20 L63.75 275.20 L64.00 275.20 L64.25 275.20 L64.50 275.20 L64.75 275.20 L65.00 275.20 L65.25 275.20 L65.50 275.20 L65.75 275.20 L66.00 275.20 L66.25 275.20 L66.50 275.20 L66.75 275.20 L67.00 275.20 L67.25 275.20 L67.50 275.20 L67.75 275.20 L68.00 275.20 L68.25 275.20 L68.50 275.20 L68.75 275.20 L69.00 275.20 L69.25 275.20 L69.50 275.20 L69.75 275.20 L70.00 275.20 L70.25 275.20 L70.50 275.20 L70.75 275.20 L71.00 275.20 L71.25 275.20 L71.50 275.20 L71.75 275.20 L72.00 275.20 L72.25 275.31 L72.50 275.55 L72.75 275.81 L73.00 275.98 L73.25 275.75 L73.50 274.48 L73.75 272.60 L74.00 270.65 L74.25 269.14 L74.50 267.76 L74.75 266.33 L75.00 265.02 L75.25 264.01 L75.50 263.45 L75.75 263.44 L76.00 263.68 L76.25 264.05 L76.50 264.50 L76.75 264.95 L77.00 265.32 L77.25 265.56 L77.50 265.58 L77.75 265.42 L78.00 265.11 L78.25 264.68 L78.50 264.17 L78.75 263.60 L79.00 263.02 L79.25 262.44 L79.50 261.92 L79.75 261.47 L80.00 261.13 L80.25 260.93 L80.50 260.92 L80.75 261.08 L81.00 261.39 L81.25 261.82 L81.50 262.33 L81.75 262.90 L82.00 263.48 L82.25 264.06 L82.50 264.58 L82.75 265.03 L83.00 265.37 L83.25 265.57 L83.50 265.59 L83.75 265.53 L84.00 265.40 L84.25 265.23 L84.50 265.05 L84.75 264.87 L85.00 264.70 L85.25 264.57 L85.50 264.51 L85.75 264.54 L86.00 264.79 L86.25 265.19 L86.50 265.70 L86.75 266.26 L87.00 266.81 L87.25 267.28 L87.50 267.63 L87.75 267.79 L88.00 267.79 L88.25 267.77 L88.50 267.73 L88.75 267.68 L89.00 267.63 L89.25 267.58 L89.50 267.54 L89.75 267.51 L90.00 267.50 L90.25 267.57 L90.50 267.75 L90.75 268.02 L91.00 268.35 L91.25 268.72 L91.50 269.10 L91.75 269.47 L92.00 269.80 L92.25 270.07 L92.50 270.24 L92.75 270.30 L93.00 270.32 L93.25 270.33 L93.50 270.34 L93.75 270.35 L94.00 270.36 L94.25 270.36 L94.50 270.37 L94.75 270.38 L95.00 270.40 L95.25 270.43 L95.50 270.49 L95.75 270.57 L96.00 270.67 L96.25 270.78 L96.50 270.90 L96.75 271.02 L97.00 271.15 L97.25 271.27 L97.50 271.38 L97.75 271.47 L98.00 271.55 L98.25 271.61 L98.50 271.66 L98.75 271.70 L99.00 271.75 L99.25 271.79 L99.50 271.83 L99.75 271.87 L100.00 271.90 L100.25 271.94 L100.50 271.97 L100.75 272.00 L101.00 272.03 L101.25 272.06 L101.50 272.09 L101.75 272.12 L102.00 272.15 L102.25 272.17 L102.50 272.20 L102.75 272.22 L103.00 272.24 L103.25 272.27 L103.50 272.29 L103.75 272.31 L104.00 272.34 L104.25 272.36 L104.50 272.38 L104.75 272.40 L105.00 272.42 L105.25 272.44 L105.50 272.45 L105.75 272.47 L106.00 272.49 L106.25 272.51 L106.50 272.52 L106.75 272.54 L107.00 272.56 L107.25 272.57 L107.50 272.59 L107.75 272.61 L108.00 272.62 L108.25 272.64 L108.50 272.66 L108.75 272.67 L109.00 272.69 L109.25 272.71 L109.50 272.73 L109.75 272.75 L110.00 272.76 L110.25 272.78 L110.50 272.80 L110.75 272.82 L111.00 272.83 L111.25 272.85 L111.50 272.87 L111.75 272.89 L112.00 272.90 L112.25 272.92 L112.50 272.94 L112.75 272.96 L113.00 272.98 L113.25 273.00 L113.50 273.02 L113.75 273.04 L114.00 273.06 L114.25 273.08 L114.50 273.10 L114.75 273.12 L115.00 273.15 L115.25 273.17 L115.50 273.19 L115.75 273.22 L116.00 273.25 L116.25 273.27 L116.50 273.30 L116.75 273.33 L117.00 273.36 L117.25 273.38 L117.50 273.41 L117.75 273.44 L118.00 273.47 L118.25 273.50 L118.50 273.53 L118.75 273.56 L119.00 273.59 L119.25 273.61 L119.50 273.64 L119.75 273.67 L120.00 273.70 L120.25 273.73 L120.50 273.76 L120.75 273.79 L121.00 273.81 L121.25 273.84 L121.50 273.87 L121.75 273.90 L122.00 273.93 L122.25 273.96 L122.50 273.99 L122.75 274.02 L123.00 274.05 L123.25 274.08 L123.50 274.11 L123.75 274.14 L124.00 274.17 L124.25 274.20 L124.50 274.23 L124.75 274.26 L125.00 274.29 L125.25 274.32 L125.50 274.34 L125.75 274.37 L126.00 274.40 L126.25 274.42 L126.50 274.45 L126.75 274.48 L127.00 274.50 L127.25 274.52 L127.50 274.55 L127.75 274.57 L128.00 274.60 L128.25 274.62 L128.50 274.65 L128.75 274.67 L129.00 274.70 L129.25 274.73 L129.50 274.75 L129.75 274.78 L130.00 274.80 L130.25 274.82 L130.50 274.85 L130.75 274.87 L131.00 274.90 L131.25 274.92 L131.50 274.94 L131.75 274.96 L132.00 274.99 L132.25 275.01 L132.50 275.03 L132.75 275.05 L133.00 275.07 L133.25 275.08 L133.50 275.10 L133.75 275.12 L134.00 275.13 L134.25 275.15 L134.50 275.16 L134.75 275.17 L135.00 275.18 L135.25 275.19 L135.50 275.20 L135.75 275.21 L136.00 275.22 L136.25 275.23 L136.50 275.24 L136.75 275.25 L137.00 275.25 L137.25 275.26 L137.50 275.27 L137.75 275.28 L138.00 275.29 L138.25 275.29 L138.50 275.30 L138.75 275.31 L139.00 275.32 L139.25 275.32 L139.50 275.33 L139.75 275.34 L140.00 275.34 L140.25 275.35 L140.50 275.36 L140.75 275.36 L141.00 275.37 L141.25 275.38 L141.50 275.38 L141.75 275.39 L142.00 275.39 L142.25 275.40 L142.50 275.40 L142.75 275.41 L143.00 275.42 L143.25 275.42 L143.50 275.43 L143.75 275.43 L144.00 275.43 L144.25 275.44 L144.50 275.44 L144.75 275.45 L145.00 275.45 L145.25 275.46 L145.50 275.46 L145.75 275.46 L146.00 275.47 L146.25 275.47 L146.50 275.47 L146.75 275.48 L147.00 275.48 L147.25 275.48 L147.50 275.48 L147.75 275.49 L148.00 275.49 L148.25 275.49 L148.50 275.49 L148.75 275.49 L149.00 275.50 L149.25 275.50 L149.50 275.50 L149.75 275.50 L150.00 275.50 L150.25 275.50 L150.50 275.50 L150.75 275.50 L151.00 275.50 L151.25 275.50 L151.50 275.50 L151.75 275.50 L152.00 275.50 L152.25 275.51 L152.50 275.51 L152.75 275.51 L153.00 275.51 L153.25 275.51 L153.50 275.51 L153.75 275.51 L154.00 275.51 L154.25 275.51 L154.50 275.51 L154.75 275.51 L155.00 275.51 L155.25 275.51 L155.50 275.51 L155.75 275.51 L156.00 275.51 L156.25 275.52 L156.50 275.52 L156.75 275.52 L157.00 275.52 L157.25 275.52 L157.50 275.52 L157.75 275.52 L158.00 275.52 L158.25 275.52 L158.50 275.52 L158.75 275.52 L159.00 275.52 L159.25 275.52 L159.50 275.52 L159.75 275.52 L160.00 275.52 L160.25 275.52 L160.50 275.52 L160.75 275.52 L161.00 275.53 L161.25 275.53 L161.50 275.53 L161.75 275.53 L162.00 275.53 L162.25 275.53 L162.50 275.53 L162.75 275.53 L163.00 275.53 L163.25 275.53 L163.50 275.53 L163.75 275.53 L164.00 275.53 L164.25 275.53 L164.50 275.53 L164.75 275.53 L165.00 275.53 L165.25 275.53 L165.50 275.53 L165.75 275.54 L166.00 275.54 L166.25 275.54 L166.50 275.54 L166.75 275.54 L167.00 275.54 L167.25 275.54 L167.50 275.54 L167.75 275.54 L168.00 275.54 L168.25 275.54 L168.50 275.54 L168.75 275.54 L169.00 275.54 L169.25 275.54 L169.50 275.54 L169.75 275.54 L170.00 275.54 L170.25 275.54 L170.50 275.54 L170.75 275.54 L171.00 275.54 L171.25 275.55 L171.50 275.55 L171.75 275.55 L172.00 275.55 L172.25 275.55 L172.50 275.55 L172.75 275.55 L173.00 275.55 L173.25 275.55 L173.50 275.55 L173.75 275.55 L174.00 275.55 L174.25 275.55 L174.50 275.55 L174.75 275.55 L175.00 275.55 L175.25 275.55 L175.50 275.55 L175.75 275.55 L176.00 275.55 L176.25 275.55 L176.50 275.55 L176.75 275.55 L177.00 275.55 L177.25 275.56 L177.50 275.56 L177.75 275.56 L178.00 275.56 L178.25 275.56 L178.50 275.56 L178.75 275.56 L179.00 275.56 L179.25 275.56 L179.50 275.56 L179.75 275.56 L180.00 275.56 L180.25 275.56 L180.50 275.56 L180.75 275.56 L181.00 275.56 L181.25 275.56 L181.50 275.56 L181.75 275.56 L182.00 275.56 L182.25 275.56 L182.50 275.56 L182.75 275.56 L183.00 275.56 L183.25 275.56 L183.50 275.56 L183.75 275.56 L184.00 275.56 L184.25 275.56 L184.50 275.57 L184.75 275.57 L185.00 275.57 L185.25 275.57 L185.50 275.57 L185.75 275.57 L186.00 275.57 L186.25 275.57 L186.50 275.57 L186.75 275.57 L187.00 275.57 L187.25 275.57 L187.50 275.57 L187.75 275.57 L188.00 275.57 L188.25 275.57 L188.50 275.57 L188.75 275.57 L189.00 275.57 L189.25 275.57 L189.50 275.57 L189.75 275.57 L190.00 275.57 L190.25 275.57 L190.50 275.57 L190.75 275.57 L191.00 275.57 L191.25 275.57 L191.50 275.57 L191.75 275.57 L192.00 275.57 L192.25 275.57 L192.50 275.57 L192.75 275.58 L193.00 275.58 L193.25 275.58 L193.50 275.58 L193.75 275.58 L194.00 275.58 L194.25 275.58 L194.50 275.58 L194.75 275.58 L195.00 275.58 L195.25 275.58 L195.50 275.58 L195.75 275.58 L196.00 275.58 L196.25 275.58 L196.50 275.58 L196.75 275.58 L197.00 275.58 L197.25 275.58 L197.50 275.58 L197.75 275.58 L198.00 275.58 L198.25 275.58 L198.50 275.58 L198.75 275.58 L199.00 275.58 L199.25 275.58 L199.50 275.58 L199.75 275.58 L200.00 275.58 L200.25 275.58 L200.50 275.58 L200.75 275.58 L201.00 275.58 L201.25 275.58 L201.50 275.58 L201.75 275.58 L202.00 275.58 L202.25 275.58 L202.50 275.58 L202.75 275.58 L203.00 275.58 L203.25 275.58 L203.50 275.59 L203.75 275.59 L204.00 275.59 L204.25 275.59 L204.50 275.59 L204.75 275.59 L205.00 275.59 L205.25 275.59 L205.50 275.59 L205.75 275.59 L206.00 275.59 L206.25 275.59 L206.50 275.59 L206.75 275.59 L207.00 275.59 L207.25 275.59 L207.50 275.59 L207.75 275.59 L208.00 275.59 L208.25 275.59 L208.50 275.59 L208.75 275.59 L209.00 275.59 L209.25 275.59 L209.50 275.59 L209.75 275.59 L210.00 275.59 L210.25 275.59 L210.50 275.59 L210.75 275.59 L211.00 275.59 L211.25 275.59 L211.50 275.59 L211.75 275.59 L212.00 275.59 L212.25 275.59 L212.50 275.59 L212.75 275.59 L213.00 275.59 L213.25 275.59 L213.50 275.59 L213.75 275.59 L214.00 275.59 L214.25 275.59 L214.50 275.59 L214.75 275.59 L215.00 275.59 L215.25 275.59 L215.50 275.59 L215.75 275.59 L216.00 275.59 L216.25 275.59 L216.50 275.59 L216.75 275.59 L217.00 275.59 L217.25 275.59 L217.50 275.59 L217.75 275.59 L218.00 275.59 L218.25 275.59 L218.50 275.59 L218.75 275.59 L219.00 275.59 L219.25 275.59 L219.50 275.59 L219.75 275.59 L220.00 275.59 L220.25 275.60 L220.50 275.60 L220.75 275.60 L221.00 275.60 L221.25 275.60 L221.50 275.60 L221.75 275.60 L222.00 275.60 L222.25 275.60 L222.50 275.60 L222.75 275.60 L223.00 275.60 L223.25 275.60 L223.50 275.60 L223.75 275.60 L224.00 275.60 L224.25 275.60 L224.50 275.60 L224.75 275.60 L225.00 275.60 L225.25 275.60 L225.50 275.60 L225.75 275.60 L226.00 275.60 L226.25 275.60 L226.50 275.60 L226.75 275.60 L227.00 275.60 L227.25 275.60 L227.50 275.60 L227.75 275.60 L228.00 275.60 L228.25 275.60 L228.50 275.60 L228.75 275.60 L229.00 275.60 L229.25 275.60 L229.50 275.60 L229.75 275.60 L230.00 275.60 L230.25 275.60 L230.50 275.60 L230.75 275.60 L231.00 275.60 L231.25 275.60 L231.50 275.60 L231.75 275.60 L232.00 275.60 L232.25 275.60 L232.50 275.60 L232.75 275.60 L233.00 275.60 L233.25 275.60 L233.50 275.60 L233.75 275.60 L234.00 275.60 L234.25 275.60 L234.50 275.60 L234.75 275.60 L235.00 275.60 L235.25 275.60 L235.50 275.60 L235.75 275.60 L236.00 275.60 L236.25 275.60 L236.50 275.60 L236.75 275.60 L237.00 275.60 L237.25 275.60 L237.50 275.60 L237.75 275.60 L238.00 275.60 L238.25 275.60 L238.50 275.60 L238.75 275.60 L239.00 275.60 L239.25 275.60 L239.50 275.60 L239.75 275.60 L240.00 275.60 L240.25 275.60 L240.50 275.60 L240.75 275.60 L241.00 275.60 L241.25 275.60 L241.50 275.60 L241.75 275.60 L242.00 275.60 L242.25 275.60 L242.50 275.60 L242.75 275.60 L243.00 275.60 L243.25 275.60 L243.50 275.60 L243.75 275.60 L244.00 275.60 L244.25 275.60 L244.50 275.60 L244.75 275.60 L245.00 275.60 L245.25 275.60 L245.50 275.60 L245.75 275.60 L246.00 275.60 L246.25 275.60 L246.50 275.60" stroke="#D95319" stroke-width="1.30" fill="none" stroke-linejoin="round" stroke-linecap="butt"/>
<path d="M50.30 409.60 v-2.00 M50.30 237.30 v2.00 M72.10 409.60 v-2.00 M72.10 237.30 v2.00 M93.90 409.60 v-2.00 M93.90 237.30 v2.00 M115.70 409.60 v-2.00 M115.70 237.30 v2.00 M137.50 409.60 v-2.00 M137.50 237.30 v2.00 M159.30 409.60 v-2.00 M159.30 237.30 v2.00 M181.10 409.60 v-2.00 M181.10 237.30 v2.00 M202.90 409.60 v-2.00 M202.90 237.30 v2.00 M224.70 409.60 v-2.00 M224.70 237.30 v2.00 M28.50 385.62 h2.00 M246.50 385.62 h-2.00 M28.50 361.63 h2.00 M246.50 361.63 h-2.00 M28.50 337.65 h2.00 M246.50 337.65 h-2.00 M28.50 313.66 h2.00 M246.50 313.66 h-2.00 M28.50 289.68 h2.00 M246.50 289.68 h-2.00 M28.50 265.70 h2.00 M246.50 265.70 h-2.00 M28.50 241.71 h2.00 M246.50 241.71 h-2.00" stroke="#8e8e8e" stroke-width="0.8" fill="none"/>
<rect x="28.50" y="237.30" width="218.00" height="172.30" fill="none" stroke="#8e8e8e" stroke-width="1.25"/>
<text x="28.50" y="418.80" text-anchor="middle" class="tk">-0.02</text>
<text x="50.30" y="418.80" text-anchor="middle" class="tk">-0.01</text>
<text x="72.10" y="418.80" text-anchor="middle" class="tk">0</text>
<text x="93.90" y="418.80" text-anchor="middle" class="tk">0.01</text>
<text x="115.70" y="418.80" text-anchor="middle" class="tk">0.02</text>
<text x="137.50" y="418.80" text-anchor="middle" class="tk">0.03</text>
<text x="159.30" y="418.80" text-anchor="middle" class="tk">0.04</text>
<text x="181.10" y="418.80" text-anchor="middle" class="tk">0.05</text>
<text x="202.90" y="418.80" text-anchor="middle" class="tk">0.06</text>
<text x="224.70" y="418.80" text-anchor="middle" class="tk">0.07</text>
<text x="246.50" y="418.80" text-anchor="middle" class="tk">0.08</text>
<text x="26.10" y="411.75" text-anchor="end" class="tk">0</text>
<text x="26.10" y="387.77" text-anchor="end" class="tk">0.05</text>
<text x="26.10" y="363.78" text-anchor="end" class="tk">0.1</text>
<text x="26.10" y="339.80" text-anchor="end" class="tk">0.15</text>
<text x="26.10" y="315.81" text-anchor="end" class="tk">0.2</text>
<text x="26.10" y="291.83" text-anchor="end" class="tk">0.25</text>
<text x="26.10" y="267.85" text-anchor="end" class="tk">0.3</text>
<text x="26.10" y="243.86" text-anchor="end" class="tk">0.35</text>
<text x="137.50" y="428.20" text-anchor="middle" class="lb">time (s)</text>
<text transform="translate(9.00 321.85) rotate(-90)" text-anchor="middle" class="lb">duty cycle</text>
<rect x="121.40" y="385.40" width="119.20" height="17.30" fill="#fff" stroke="#555" stroke-width="0.7"/>
<path d="M124.60 390.60 h20.6" stroke="#0072BD" stroke-width="1.35"/>
<text x="147.40" y="392.70" class="lg">exp. in baseline scenario (w/o FF)</text>
<path d="M124.60 398.20 h20.6" stroke="#D95319" stroke-width="1.35"/>
<text x="147.40" y="400.30" class="lg">sim. in baseline scenario (w/o FF)</text>
<text x="132.20" y="446.00" text-anchor="middle" class="cap">(<tspan font-weight="bold">c</tspan>)</text>
<path d="M345.30 237.30 V409.60 M367.10 237.30 V409.60 M388.90 237.30 V409.60 M410.70 237.30 V409.60 M432.50 237.30 V409.60 M454.30 237.30 V409.60 M476.10 237.30 V409.60 M497.90 237.30 V409.60 M519.70 237.30 V409.60" stroke="#eaeaea" stroke-width="0.9" fill="none"/>
<path d="M323.50 385.62 H541.50 M323.50 361.63 H541.50 M323.50 337.65 H541.50 M323.50 313.66 H541.50 M323.50 289.68 H541.50 M323.50 265.70 H541.50 M323.50 241.71 H541.50" stroke="#eeeeee" stroke-width="0.9" fill="none"/>
<path d="M323.50 263.60 L323.75 263.94 L324.00 264.26 L324.25 264.55 L324.50 264.81 L324.75 265.05 L325.00 265.26 L325.25 265.44 L325.50 265.61 L325.75 265.74 L326.00 265.86 L326.25 265.95 L326.50 266.02 L326.75 266.07 L327.00 266.09 L327.25 266.10 L327.50 266.04 L327.75 265.92 L328.00 265.74 L328.25 265.53 L328.50 265.30 L328.75 265.06 L329.00 264.84 L329.25 264.65 L329.50 264.50 L329.75 264.42 L330.00 264.40 L330.25 264.43 L330.50 264.49 L330.75 264.58 L331.00 264.68 L331.25 264.80 L331.50 264.94 L331.75 265.07 L332.00 265.21 L332.25 265.34 L332.50 265.47 L332.75 265.58 L333.00 265.67 L333.25 265.75 L333.50 265.79 L333.75 265.80 L334.00 265.78 L334.25 265.73 L334.50 265.66 L334.75 265.56 L335.00 265.45 L335.25 265.33 L335.50 265.19 L335.75 265.04 L336.00 264.89 L336.25 264.74 L336.50 264.59 L336.75 264.44 L337.00 264.30 L337.25 264.17 L337.50 264.06 L337.75 263.96 L338.00 263.88 L338.25 263.83 L338.50 263.80 L338.75 263.80 L339.00 263.83 L339.25 263.87 L339.50 263.94 L339.75 264.01 L340.00 264.10 L340.25 264.19 L340.50 264.28 L340.75 264.37 L341.00 264.46 L341.25 264.54 L341.50 264.62 L341.75 264.67 L342.00 264.72 L342.25 264.76 L342.50 264.79 L342.75 264.83 L343.00 264.87 L343.25 264.90 L343.50 264.93 L343.75 264.96 L344.00 264.98 L344.25 264.99 L344.50 265.00 L344.75 265.00 L345.00 264.99 L345.25 264.97 L345.50 264.95 L345.75 264.92 L346.00 264.88 L346.25 264.84 L346.50 264.79 L346.75 264.74 L347.00 264.68 L347.25 264.62 L347.50 264.56 L347.75 264.49 L348.00 264.42 L348.25 264.34 L348.50 264.27 L348.75 264.19 L349.00 264.11 L349.25 264.03 L349.50 263.95 L349.75 263.87 L350.00 263.79 L350.25 263.71 L350.50 263.63 L350.75 263.55 L351.00 263.45 L351.25 263.34 L351.50 263.21 L351.75 263.08 L352.00 262.94 L352.25 262.79 L352.50 262.65 L352.75 262.52 L353.00 262.39 L353.25 262.28 L353.50 262.18 L353.75 262.10 L354.00 262.04 L354.25 262.01 L354.50 262.01 L354.75 262.07 L355.00 262.19 L355.25 262.35 L355.50 262.55 L355.75 262.76 L356.00 262.97 L356.25 263.17 L356.50 263.35 L356.75 263.49 L357.00 263.58 L357.25 263.60 L357.50 263.59 L357.75 263.58 L358.00 263.55 L358.25 263.52 L358.50 263.49 L358.75 263.46 L359.00 263.42 L359.25 263.39 L359.50 263.36 L359.75 263.33 L360.00 263.31 L360.25 263.30 L360.50 263.31 L360.75 263.40 L361.00 263.56 L361.25 263.75 L361.50 263.94 L361.75 264.10 L362.00 264.19 L362.25 264.17 L362.50 264.03 L362.75 263.78 L363.00 263.47 L363.25 263.13 L363.50 262.80 L363.75 262.51 L364.00 262.30 L364.25 262.20 L364.50 262.20 L364.75 262.20 L365.00 262.21 L365.25 262.22 L365.50 262.23 L365.75 262.24 L366.00 262.26 L366.25 262.28 L366.50 262.30 L366.75 263.92 L367.00 267.59 L367.25 271.59 L367.50 274.22 L367.75 274.39 L368.00 273.89 L368.25 273.30 L368.50 272.80 L368.75 272.24 L369.00 271.67 L369.25 271.16 L369.50 270.78 L369.75 270.61 L370.00 270.62 L370.25 270.69 L370.50 270.80 L370.75 270.94 L371.00 271.10 L371.25 271.27 L371.50 271.48 L371.75 271.79 L372.00 272.18 L372.25 272.58 L372.50 272.94 L372.75 273.23 L373.00 273.38 L373.25 273.38 L373.50 273.24 L373.75 273.01 L374.00 272.70 L374.25 272.34 L374.50 271.96 L374.75 271.52 L375.00 270.88 L375.25 270.15 L375.50 269.45 L375.75 268.84 L376.00 268.18 L376.25 267.49 L376.50 266.82 L376.75 266.23 L377.00 265.74 L377.25 265.42 L377.50 265.30 L377.75 265.34 L378.00 265.44 L378.25 265.60 L378.50 265.78 L378.75 265.96 L379.00 266.14 L379.25 266.28 L379.50 266.37 L379.75 266.40 L380.00 266.35 L380.25 266.25 L380.50 266.10 L380.75 265.93 L381.00 265.74 L381.25 265.55 L381.50 265.36 L381.75 265.20 L382.00 265.08 L382.25 265.01 L382.50 265.00 L382.75 265.05 L383.00 265.15 L383.25 265.28 L383.50 265.43 L383.75 265.61 L384.00 265.80 L384.25 265.99 L384.50 266.18 L384.75 266.35 L385.00 266.50 L385.25 266.62 L385.50 266.73 L385.75 266.85 L386.00 266.97 L386.25 267.08 L386.50 267.19 L386.75 267.30 L387.00 267.40 L387.25 267.49 L387.50 267.57 L387.75 267.63 L388.00 267.67 L388.25 267.70 L388.50 267.70 L388.75 267.67 L389.00 267.63 L389.25 267.56 L389.50 267.48 L389.75 267.39 L390.00 267.29 L390.25 267.20 L390.50 267.11 L390.75 267.02 L391.00 266.95 L391.25 266.89 L391.50 266.84 L391.75 266.78 L392.00 266.73 L392.25 266.68 L392.50 266.63 L392.75 266.58 L393.00 266.53 L393.25 266.49 L393.50 266.46 L393.75 266.43 L394.00 266.41 L394.25 266.40 L394.50 266.41 L394.75 266.55 L395.00 266.83 L395.25 267.19 L395.50 267.63 L395.75 268.10 L396.00 268.58 L396.25 269.04 L396.50 269.44 L396.75 269.75 L397.00 269.95 L397.25 270.00 L397.50 269.95 L397.75 269.83 L398.00 269.66 L398.25 269.46 L398.50 269.23 L398.75 268.98 L399.00 268.73 L399.25 268.49 L399.50 268.27 L399.75 268.09 L400.00 267.95 L400.25 267.81 L400.50 267.67 L400.75 267.53 L401.00 267.40 L401.25 267.27 L401.50 267.16 L401.75 267.06 L402.00 266.98 L402.25 266.93 L402.50 266.90 L402.75 266.91 L403.00 266.94 L403.25 267.01 L403.50 267.10 L403.75 267.21 L404.00 267.33 L404.25 267.46 L404.50 267.60 L404.75 267.74 L405.00 267.87 L405.25 267.99 L405.50 268.10 L405.75 268.19 L406.00 268.26 L406.25 268.29 L406.50 268.30 L406.75 268.27 L407.00 268.21 L407.25 268.13 L407.50 268.03 L407.75 267.91 L408.00 267.78 L408.25 267.64 L408.50 267.50 L408.75 267.36 L409.00 267.22 L409.25 267.10 L409.50 266.98 L409.75 266.88 L410.00 266.79 L410.25 266.71 L410.50 266.63 L410.75 266.55 L411.00 266.47 L411.25 266.40 L411.50 266.32 L411.75 266.24 L412.00 266.16 L412.25 266.08 L412.50 265.99 L412.75 265.90 L413.00 265.80 L413.25 265.68 L413.50 265.54 L413.75 265.38 L414.00 265.20 L414.25 265.03 L414.50 264.86 L414.75 264.71 L415.00 264.58 L415.25 264.48 L415.50 264.42 L415.75 264.40 L416.00 264.49 L416.25 264.67 L416.50 264.93 L416.75 265.24 L417.00 265.58 L417.25 265.93 L417.50 266.25 L417.75 266.54 L418.00 266.75 L418.25 266.88 L418.50 266.89 L418.75 266.84 L419.00 266.73 L419.25 266.59 L419.50 266.42 L419.75 266.24 L420.00 266.05 L420.25 265.87 L420.50 265.72 L420.75 265.60 L421.00 265.52 L421.25 265.50 L421.50 265.52 L421.75 265.56 L422.00 265.62 L422.25 265.69 L422.50 265.78 L422.75 265.87 L423.00 265.97 L423.25 266.07 L423.50 266.16 L423.75 266.24 L424.00 266.32 L424.25 266.37 L424.50 266.41 L424.75 266.45 L425.00 266.49 L425.25 266.52 L425.50 266.55 L425.75 266.58 L426.00 266.60 L426.25 266.61 L426.50 266.62 L426.75 266.59 L427.00 266.50 L427.25 266.38 L427.50 266.24 L427.75 266.10 L428.00 265.96 L428.25 265.85 L428.50 265.77 L428.75 265.75 L429.00 265.76 L429.25 265.78 L429.50 265.80 L429.75 265.83 L430.00 265.86 L430.25 265.89 L430.50 265.92 L430.75 265.95 L431.00 265.96 L431.25 265.98 L431.50 265.99 L431.75 266.00 L432.00 266.01 L432.25 266.01 L432.50 266.03 L432.75 266.04 L433.00 266.06 L433.25 266.08 L433.50 266.14 L433.75 266.22 L434.00 266.31 L434.25 266.41 L434.50 266.50 L434.75 266.58 L435.00 266.64 L435.25 266.66 L435.50 266.64 L435.75 266.55 L436.00 266.41 L436.25 266.24 L436.50 266.06 L436.75 265.89 L437.00 265.75 L437.25 265.65 L437.50 265.61 L437.75 265.64 L438.00 265.74 L438.25 265.87 L438.50 266.03 L438.75 266.20 L439.00 266.35 L439.25 266.48 L439.50 266.56 L439.75 266.58 L440.00 266.58 L440.25 266.56 L440.50 266.54 L440.75 266.51 L441.00 266.49 L441.25 266.46 L441.50 266.44 L441.75 266.43 L442.00 266.43 L442.25 266.44 L442.50 266.47 L442.75 266.50 L443.00 266.53 L443.25 266.56 L443.50 266.59 L443.75 266.62 L444.00 266.63 L444.25 266.62 L444.50 266.56 L444.75 266.47 L445.00 266.35 L445.25 266.21 L445.50 266.07 L445.75 265.94 L446.00 265.83 L446.25 265.75 L446.50 265.71 L446.75 265.66 L447.00 265.62 L447.25 265.58 L447.50 265.54 L447.75 265.52 L448.00 265.49 L448.25 265.48 L448.50 265.48 L448.75 265.48 L449.00 265.48 L449.25 265.48 L449.50 265.48 L449.75 265.48 L450.00 265.48 L450.25 265.48 L450.50 265.48 L450.75 265.49 L451.00 265.52 L451.25 265.60 L451.50 265.70 L451.75 265.82 L452.00 265.95 L452.25 266.06 L452.50 266.17 L452.75 266.24 L453.00 266.28 L453.25 266.30 L453.50 266.33 L453.75 266.35 L454.00 266.37 L454.25 266.39 L454.50 266.40 L454.75 266.41 L455.00 266.42 L455.25 266.41 L455.50 266.39 L455.75 266.35 L456.00 266.30 L456.25 266.24 L456.50 266.18 L456.75 266.12 L457.00 266.06 L457.25 266.01 L457.50 265.97 L457.75 265.93 L458.00 265.89 L458.25 265.85 L458.50 265.81 L458.75 265.77 L459.00 265.73 L459.25 265.70 L459.50 265.66 L459.75 265.62 L460.00 265.57 L460.25 265.52 L460.50 265.48 L460.75 265.43 L461.00 265.40 L461.25 265.37 L461.50 265.35 L461.75 265.34 L462.00 265.38 L462.25 265.46 L462.50 265.56 L462.75 265.68 L463.00 265.80 L463.25 265.91 L463.50 266.00 L463.75 266.06 L464.00 266.07 L464.25 266.05 L464.50 266.03 L464.75 266.00 L465.00 265.95 L465.25 265.90 L465.50 265.84 L465.75 265.77 L466.00 265.70 L466.25 265.62 L466.50 265.54 L466.75 265.46 L467.00 265.37 L467.25 265.29 L467.50 265.20 L467.75 265.12 L468.00 265.04 L468.25 264.96 L468.50 264.86 L468.75 264.75 L469.00 264.63 L469.25 264.50 L469.50 264.38 L469.75 264.28 L470.00 264.21 L470.25 264.16 L470.50 264.15 L470.75 264.15 L471.00 264.16 L471.25 264.17 L471.50 264.18 L471.75 264.19 L472.00 264.20 L472.25 264.21 L472.50 264.23 L472.75 264.25 L473.00 264.30 L473.25 264.38 L473.50 264.47 L473.75 264.56 L474.00 264.65 L474.25 264.73 L474.50 264.78 L474.75 264.81 L475.00 264.81 L475.25 264.81 L475.50 264.81 L475.75 264.81 L476.00 264.80 L476.25 264.80 L476.50 264.80 L476.75 264.79 L477.00 264.79 L477.25 264.76 L477.50 264.71 L477.75 264.63 L478.00 264.53 L478.25 264.44 L478.50 264.35 L478.75 264.28 L479.00 264.23 L479.25 264.22 L479.50 264.26 L479.75 264.34 L480.00 264.47 L480.25 264.63 L480.50 264.81 L480.75 265.00 L481.00 265.19 L481.25 265.37 L481.50 265.54 L481.75 265.68 L482.00 265.79 L482.25 265.86 L482.50 265.90 L482.75 265.94 L483.00 265.97 L483.25 266.00 L483.50 266.03 L483.75 266.05 L484.00 266.08 L484.25 266.10 L484.50 266.13 L484.75 266.16 L485.00 266.19 L485.25 266.22 L485.50 266.25 L485.75 266.28 L486.00 266.30 L486.25 266.32 L486.50 266.32 L486.75 266.32 L487.00 266.27 L487.25 266.18 L487.50 266.08 L487.75 265.96 L488.00 265.85 L488.25 265.75 L488.50 265.68 L488.75 265.65 L489.00 265.67 L489.25 265.78 L489.50 265.94 L489.75 266.13 L490.00 266.34 L490.25 266.53 L490.50 266.70 L490.75 266.82 L491.00 266.86 L491.25 266.85 L491.50 266.80 L491.75 266.74 L492.00 266.67 L492.25 266.59 L492.50 266.52 L492.75 266.46 L493.00 266.42 L493.25 266.41 L493.50 266.43 L493.75 266.47 L494.00 266.53 L494.25 266.60 L494.50 266.67 L494.75 266.74 L495.00 266.79 L495.25 266.82 L495.50 266.82 L495.75 266.77 L496.00 266.67 L496.25 266.55 L496.50 266.40 L496.75 266.26 L497.00 266.14 L497.25 266.04 L497.50 265.99 L497.75 266.00 L498.00 266.09 L498.25 266.24 L498.50 266.43 L498.75 266.63 L499.00 266.83 L499.25 267.00 L499.50 267.13 L499.75 267.19 L500.00 267.19 L500.25 267.17 L500.50 267.14 L500.75 267.11 L501.00 267.07 L501.25 267.02 L501.50 266.98 L501.75 266.93 L502.00 266.88 L502.25 266.82 L502.50 266.74 L502.75 266.65 L503.00 266.55 L503.25 266.46 L503.50 266.38 L503.75 266.31 L504.00 266.27 L504.25 266.26 L504.50 266.31 L504.75 266.41 L505.00 266.56 L505.25 266.72 L505.50 266.89 L505.75 267.05 L506.00 267.17 L506.25 267.24 L506.50 267.25 L506.75 267.23 L507.00 267.19 L507.25 267.13 L507.50 267.07 L507.75 267.01 L508.00 266.96 L508.25 266.91 L508.50 266.89 L508.75 266.89 L509.00 266.91 L509.25 266.94 L509.50 266.98 L509.75 267.03 L510.00 267.07 L510.25 267.11 L510.50 267.13 L510.75 267.14 L511.00 267.12 L511.25 267.01 L511.50 266.85 L511.75 266.65 L512.00 266.44 L512.25 266.24 L512.50 266.07 L512.75 265.95 L513.00 265.90 L513.25 265.90 L513.50 265.91 L513.75 265.91 L514.00 265.91 L514.25 265.92 L514.50 265.93 L514.75 265.93 L515.00 265.94 L515.25 265.95 L515.50 266.02 L515.75 266.14 L516.00 266.30 L516.25 266.49 L516.50 266.68 L516.75 266.85 L517.00 266.98 L517.25 267.07 L517.50 267.08 L517.75 267.04 L518.00 266.96 L518.25 266.86 L518.50 266.75 L518.75 266.63 L519.00 266.53 L519.25 266.46 L519.50 266.41 L519.75 266.42 L520.00 266.44 L520.25 266.49 L520.50 266.55 L520.75 266.61 L521.00 266.67 L521.25 266.72 L521.50 266.76 L521.75 266.78 L522.00 266.77 L522.25 266.72 L522.50 266.65 L522.75 266.56 L523.00 266.47 L523.25 266.38 L523.50 266.31 L523.75 266.25 L524.00 266.23 L524.25 266.28 L524.50 266.41 L524.75 266.60 L525.00 266.82 L525.25 267.04 L525.50 267.26 L525.75 267.43 L526.00 267.55 L526.25 267.58 L526.50 267.54 L526.75 267.47 L527.00 267.36 L527.25 267.24 L527.50 267.12 L527.75 267.00 L528.00 266.91 L528.25 266.86 L528.50 266.85 L528.75 266.89 L529.00 266.95 L529.25 267.03 L529.50 267.13 L529.75 267.22 L530.00 267.30 L530.25 267.37 L530.50 267.40 L530.75 267.39 L531.00 267.30 L531.25 267.16 L531.50 266.97 L531.75 266.77 L532.00 266.58 L532.25 266.41 L532.50 266.29 L532.75 266.23 L533.00 266.24 L533.25 266.30 L533.50 266.39 L533.75 266.50 L534.00 266.61 L534.25 266.72 L534.50 266.82 L534.75 266.88 L535.00 266.90 L535.25 266.88 L535.50 266.82 L535.75 266.73 L536.00 266.63 L536.25 266.52 L536.50 266.42 L536.75 266.34 L537.00 266.28 L537.25 266.27 L537.50 266.30 L537.75 266.37 L538.00 266.48 L538.25 266.62 L538.50 266.79 L538.75 266.99 L539.00 267.21 L539.25 267.46" stroke="#0072BD" stroke-width="1.47" fill="none" stroke-linejoin="round" stroke-linecap="butt"/>
<path d="M323.50 275.30 L366.60 275.30 L366.95 310.00 L367.40 290.00 L368.00 277.50 L368.80 274.60 L369.90 273.70 L370.10 273.77 L370.30 273.94 L370.50 274.19 L370.70 274.50 L370.90 274.86 L371.10 275.23 L371.30 275.61 L371.50 275.96 L371.70 276.27 L371.90 276.53 L372.10 276.70 L372.30 276.80 L372.50 276.81 L372.70 276.74 L372.90 276.59 L373.10 276.38 L373.30 276.11 L373.50 275.81 L373.70 275.50 L373.90 275.19 L374.10 274.90 L374.30 274.64 L374.50 274.44 L374.70 274.30 L374.90 274.23 L375.10 274.23 L375.30 274.30 L375.50 274.43 L375.70 274.61 L375.90 274.84 L376.10 275.09 L376.30 275.35 L376.50 275.61 L376.70 275.85 L376.90 276.05 L377.10 276.21 L377.30 276.32 L377.50 276.38 L377.70 276.37 L377.90 276.31 L378.10 276.19 L378.30 276.03 L378.50 275.84 L378.70 275.63 L378.90 275.41 L379.10 275.20 L379.30 275.00 L379.50 274.84 L379.70 274.71 L379.90 274.62 L380.10 274.59 L380.30 274.60 L380.50 274.66 L380.70 274.76 L380.90 274.89 L381.10 275.05 L381.30 275.23 L381.50 275.41 L381.70 275.59 L381.90 275.75 L382.10 275.88 L382.30 275.99 L382.50 276.05 L382.70 276.08 L382.90 276.06 L383.10 276.01 L383.30 275.92 L383.50 275.81 L383.70 275.67 L383.90 275.52 L384.10 275.37 L384.30 275.23 L384.50 275.10 L384.70 274.99 L384.90 274.90 L385.10 274.85 L385.30 274.84 L385.50 274.85 L385.70 274.90 L385.90 274.98 L386.10 275.07 L386.30 275.19 L386.50 275.31 L386.70 275.44 L386.90 275.56 L387.10 275.67 L387.30 275.75 L387.50 275.82 L387.70 275.86 L387.90 275.87 L388.10 275.85 L388.30 275.81 L388.50 275.74 L388.70 275.66 L388.90 275.56 L389.10 275.46 L389.30 275.35 L389.50 275.26 L389.70 275.17 L389.90 275.10 L390.10 275.05 L390.30 275.02 L390.50 275.01 L390.70 275.03 L390.90 275.06 L391.10 275.12 L391.30 275.19 L391.50 275.28 L391.70 275.36 L391.90 275.45 L392.10 275.53 L392.30 275.60 L392.50 275.66 L392.70 275.70 L392.90 275.72 L393.10 275.72 L393.30 275.71 L393.50 275.67 L393.70 275.62 L393.90 275.56 L394.10 275.50 L394.30 275.42 L394.50 275.35 L394.70 275.28 L394.90 275.23 L395.10 275.18 L395.30 275.15 L395.50 275.13 L395.70 275.13 L395.90 275.15 L396.10 275.18 L396.30 275.22 L396.50 275.27 L396.70 275.33 L396.90 275.39 L397.10 275.45 L397.30 275.50 L397.50 275.55 L397.70 275.59 L397.90 275.61 L398.10 275.62 L398.30 275.62 L398.50 275.61 L398.70 275.58 L398.90 275.55 L399.10 275.50 L399.30 275.45 L399.50 275.40 L399.70 275.35 L399.90 275.31 L400.10 275.27 L400.30 275.24 L400.50 275.22 L400.70 275.21 L400.90 275.22 L401.10 275.23 L401.30 275.25 L401.50 275.28 L401.70 275.32 L401.90 275.36 L402.10 275.40 L402.30 275.44 L402.50 275.48 L402.70 275.51 L402.90 275.53 L403.10 275.55 L403.30 275.56 L403.50 275.55 L403.70 275.54 L403.90 275.52 L404.10 275.49 L404.30 275.46 L404.50 275.43 L404.70 275.39 L404.90 275.36 L405.10 275.33 L405.30 275.30 L405.50 275.29 L405.70 275.27 L405.90 275.27 L406.10 275.27 L406.30 275.29 L406.50 275.30 L406.70 275.33 L406.90 275.35 L407.10 275.38 L407.30 275.41 L407.50 275.44 L407.70 275.46 L407.90 275.48 L408.10 275.50 L408.30 275.51 L408.50 275.51 L408.70 275.50 L408.90 275.49 L409.10 275.48 L409.30 275.46 L409.50 275.44 L409.70 275.41 L409.90 275.39 L410.10 275.37 L410.30 275.35 L410.50 275.33 L410.70 275.32 L410.90 275.31 L411.10 275.31 L411.30 275.31 L411.50 275.32 L411.70 275.34 L411.90 275.35 L412.10 275.37 L412.30 275.39 L412.50 275.41 L412.70 275.43 L412.90 275.45 L413.10 275.46 L413.30 275.47 L413.50 275.47 L413.70 275.47 L413.90 275.47 L414.10 275.46 L414.30 275.45 L414.50 275.44 L414.70 275.42 L414.90 275.41 L415.10 275.39 L415.30 275.37 L415.50 275.36 L415.70 275.35 L415.90 275.34 L416.10 275.34 L416.30 275.34 L416.50 275.34 L416.70 275.35 L416.90 275.36 L417.10 275.37 L417.30 275.38 L417.50 275.40 L417.70 275.41 L417.90 275.42 L418.10 275.43 L418.30 275.44 L418.50 275.45 L418.70 275.45 L418.90 275.45 L419.10 275.45 L419.30 275.44 L419.50 275.43 L419.70 275.42 L419.90 275.41 L420.10 275.40 L420.30 275.39 L420.50 275.38 L420.70 275.37 L420.90 275.36 L421.10 275.36 L421.30 275.36 L421.50 275.36 L421.70 275.36 L421.90 275.37 L422.10 275.37 L422.30 275.38 L422.50 275.39 L422.70 275.40 L422.90 275.41 L423.10 275.42 L423.30 275.43 L423.50 275.43 L423.70 275.43 L423.90 275.44 L424.10 275.43 L424.30 275.43 L424.50 275.43 L424.70 275.42 L424.90 275.41 L425.10 275.41 L425.30 275.40 L425.50 275.39 L425.70 275.38 L425.90 275.38 L426.10 275.37 L426.30 275.37 L426.50 275.37 L426.70 275.37 L426.90 275.37 L427.10 275.38 L427.30 275.38 L427.50 275.39 L427.70 275.40 L427.90 275.40 L428.10 275.41 L428.30 275.41 L428.50 275.42 L428.70 275.42 L428.90 275.42 L429.10 275.42 L429.30 275.42 L429.50 275.42 L429.70 275.42 L429.90 275.41 L541.50 275.50" stroke="#D95319" stroke-width="1.30" fill="none" stroke-linejoin="round" stroke-linecap="butt"/>
<path d="M345.30 409.60 v-2.00 M345.30 237.30 v2.00 M367.10 409.60 v-2.00 M367.10 237.30 v2.00 M388.90 409.60 v-2.00 M388.90 237.30 v2.00 M410.70 409.60 v-2.00 M410.70 237.30 v2.00 M432.50 409.60 v-2.00 M432.50 237.30 v2.00 M454.30 409.60 v-2.00 M454.30 237.30 v2.00 M476.10 409.60 v-2.00 M476.10 237.30 v2.00 M497.90 409.60 v-2.00 M497.90 237.30 v2.00 M519.70 409.60 v-2.00 M519.70 237.30 v2.00 M323.50 385.62 h2.00 M541.50 385.62 h-2.00 M323.50 361.63 h2.00 M541.50 361.63 h-2.00 M323.50 337.65 h2.00 M541.50 337.65 h-2.00 M323.50 313.66 h2.00 M541.50 313.66 h-2.00 M323.50 289.68 h2.00 M541.50 289.68 h-2.00 M323.50 265.70 h2.00 M541.50 265.70 h-2.00 M323.50 241.71 h2.00 M541.50 241.71 h-2.00" stroke="#8e8e8e" stroke-width="0.8" fill="none"/>
<rect x="323.50" y="237.30" width="218.00" height="172.30" fill="none" stroke="#8e8e8e" stroke-width="1.25"/>
<text x="323.50" y="418.80" text-anchor="middle" class="tk">-0.02</text>
<text x="345.30" y="418.80" text-anchor="middle" class="tk">-0.01</text>
<text x="367.10" y="418.80" text-anchor="middle" class="tk">0</text>
<text x="388.90" y="418.80" text-anchor="middle" class="tk">0.01</text>
<text x="410.70" y="418.80" text-anchor="middle" class="tk">0.02</text>
<text x="432.50" y="418.80" text-anchor="middle" class="tk">0.03</text>
<text x="454.30" y="418.80" text-anchor="middle" class="tk">0.04</text>
<text x="476.10" y="418.80" text-anchor="middle" class="tk">0.05</text>
<text x="497.90" y="418.80" text-anchor="middle" class="tk">0.06</text>
<text x="519.70" y="418.80" text-anchor="middle" class="tk">0.07</text>
<text x="541.50" y="418.80" text-anchor="middle" class="tk">0.08</text>
<text x="321.10" y="411.75" text-anchor="end" class="tk">0</text>
<text x="321.10" y="387.77" text-anchor="end" class="tk">0.05</text>
<text x="321.10" y="363.78" text-anchor="end" class="tk">0.1</text>
<text x="321.10" y="339.80" text-anchor="end" class="tk">0.15</text>
<text x="321.10" y="315.81" text-anchor="end" class="tk">0.2</text>
<text x="321.10" y="291.83" text-anchor="end" class="tk">0.25</text>
<text x="321.10" y="267.85" text-anchor="end" class="tk">0.3</text>
<text x="321.10" y="243.86" text-anchor="end" class="tk">0.35</text>
<text x="432.50" y="428.20" text-anchor="middle" class="lb">time (s)</text>
<text transform="translate(303.60 321.85) rotate(-90)" text-anchor="middle" class="lb">duty cycle</text>
<rect x="435.60" y="385.70" width="99.00" height="17.20" fill="#fff" stroke="#555" stroke-width="0.7"/>
<path d="M438.80 390.90 h20.6" stroke="#0072BD" stroke-width="1.35"/>
<text x="461.60" y="393.00" class="lg">exp. in scenario #1 (w/ FF)</text>
<path d="M438.80 398.50 h20.6" stroke="#D95319" stroke-width="1.35"/>
<text x="461.60" y="400.60" class="lg">sim. in scenario #1 (w/ FF)</text>
<text x="427.40" y="445.80" text-anchor="middle" class="cap">(<tspan font-weight="bold">d</tspan>)</text>
</svg>
</body>
</html>
